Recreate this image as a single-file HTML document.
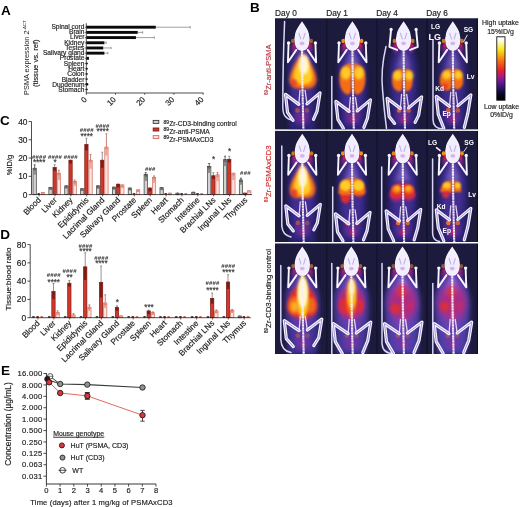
<!DOCTYPE html>
<html><head><meta charset="utf-8"><title>Figure</title>
<style>html,body{margin:0;padding:0;background:#fff;} svg{display:block;} text{font-family:'Liberation Sans', Arial, sans-serif;} text.k{stroke:#222;stroke-width:0.16px;}</style>
</head><body>
<svg width="520" height="507" viewBox="0 0 520 507">
<rect width="520" height="507" fill="#fff"/>
<text x="1.10" y="14.80" font-size="13.5" text-anchor="start" font-weight="bold" fill="#000">A</text>
<text class="k" x="84.40" y="28.60" font-size="6.6" text-anchor="end" font-weight="normal" fill="#1a1a1a">Spinal cord</text>
<rect x="86.30" y="25.75" width="69.50" height="2.9" fill="#0a0a0a"/>
<line x1="155.80" y1="27.20" x2="190.25" y2="27.20" stroke="#555" stroke-width="0.55"/>
<line x1="190.25" y1="26.00" x2="190.25" y2="28.40" stroke="#555" stroke-width="0.55"/>
<text class="k" x="84.40" y="33.90" font-size="6.6" text-anchor="end" font-weight="normal" fill="#1a1a1a">Brain</text>
<rect x="86.30" y="30.94" width="51.39" height="2.9" fill="#0a0a0a"/>
<line x1="137.69" y1="32.39" x2="142.66" y2="32.39" stroke="#555" stroke-width="0.55"/>
<line x1="142.66" y1="31.19" x2="142.66" y2="33.59" stroke="#555" stroke-width="0.55"/>
<text class="k" x="84.40" y="39.20" font-size="6.6" text-anchor="end" font-weight="normal" fill="#1a1a1a">Liver</text>
<rect x="86.30" y="36.13" width="49.64" height="2.9" fill="#0a0a0a"/>
<line x1="135.94" y1="37.58" x2="154.34" y2="37.58" stroke="#555" stroke-width="0.55"/>
<line x1="154.34" y1="36.38" x2="154.34" y2="38.78" stroke="#555" stroke-width="0.55"/>
<text class="k" x="84.40" y="44.50" font-size="6.6" text-anchor="end" font-weight="normal" fill="#1a1a1a">Kidney</text>
<rect x="86.30" y="41.32" width="18.10" height="2.9" fill="#0a0a0a"/>
<line x1="104.40" y1="42.77" x2="106.16" y2="42.77" stroke="#555" stroke-width="0.55"/>
<line x1="106.16" y1="41.57" x2="106.16" y2="43.97" stroke="#555" stroke-width="0.55"/>
<text class="k" x="84.40" y="49.80" font-size="6.6" text-anchor="end" font-weight="normal" fill="#1a1a1a">Testes</text>
<rect x="86.30" y="46.51" width="16.94" height="2.9" fill="#0a0a0a"/>
<line x1="103.24" y1="47.96" x2="111.12" y2="47.96" stroke="#555" stroke-width="0.55"/>
<line x1="111.12" y1="46.76" x2="111.12" y2="49.16" stroke="#555" stroke-width="0.55"/>
<text class="k" x="84.40" y="55.10" font-size="6.6" text-anchor="end" font-weight="normal" fill="#1a1a1a">Salivary gland</text>
<rect x="86.30" y="51.70" width="18.10" height="2.9" fill="#0a0a0a"/>
<line x1="104.40" y1="53.15" x2="107.91" y2="53.15" stroke="#555" stroke-width="0.55"/>
<line x1="107.91" y1="51.95" x2="107.91" y2="54.35" stroke="#555" stroke-width="0.55"/>
<text class="k" x="84.40" y="60.40" font-size="6.6" text-anchor="end" font-weight="normal" fill="#1a1a1a">Prostate</text>
<rect x="86.30" y="56.89" width="2.63" height="2.9" fill="#0a0a0a"/>
<text class="k" x="84.40" y="65.70" font-size="6.6" text-anchor="end" font-weight="normal" fill="#1a1a1a">Spleen</text>
<circle cx="86.90" cy="63.53" r="0.96" fill="#0a0a0a"/>
<text class="k" x="84.40" y="71.00" font-size="6.6" text-anchor="end" font-weight="normal" fill="#1a1a1a">Heart</text>
<circle cx="86.90" cy="68.72" r="0.96" fill="#0a0a0a"/>
<text class="k" x="84.40" y="76.30" font-size="6.6" text-anchor="end" font-weight="normal" fill="#1a1a1a">Colon</text>
<circle cx="86.90" cy="73.91" r="0.88" fill="#0a0a0a"/>
<text class="k" x="84.40" y="81.60" font-size="6.6" text-anchor="end" font-weight="normal" fill="#1a1a1a">Bladder</text>
<circle cx="86.90" cy="79.10" r="0.88" fill="#0a0a0a"/>
<text class="k" x="84.40" y="86.90" font-size="6.6" text-anchor="end" font-weight="normal" fill="#1a1a1a">Duodenum</text>
<circle cx="86.90" cy="84.29" r="1.40" fill="#0a0a0a"/>
<text class="k" x="84.40" y="92.20" font-size="6.6" text-anchor="end" font-weight="normal" fill="#1a1a1a">Stomach</text>
<circle cx="86.90" cy="89.48" r="0.88" fill="#0a0a0a"/>
<line x1="86.30" y1="23.2" x2="86.30" y2="93.00" stroke="#222" stroke-width="0.8"/>
<line x1="85.90" y1="93.00" x2="203.50" y2="93.00" stroke="#222" stroke-width="0.8"/>
<line x1="84.70" y1="27.20" x2="86.30" y2="27.20" stroke="#222" stroke-width="0.6"/>
<line x1="84.70" y1="32.39" x2="86.30" y2="32.39" stroke="#222" stroke-width="0.6"/>
<line x1="84.70" y1="37.58" x2="86.30" y2="37.58" stroke="#222" stroke-width="0.6"/>
<line x1="84.70" y1="42.77" x2="86.30" y2="42.77" stroke="#222" stroke-width="0.6"/>
<line x1="84.70" y1="47.96" x2="86.30" y2="47.96" stroke="#222" stroke-width="0.6"/>
<line x1="84.70" y1="53.15" x2="86.30" y2="53.15" stroke="#222" stroke-width="0.6"/>
<line x1="84.70" y1="58.34" x2="86.30" y2="58.34" stroke="#222" stroke-width="0.6"/>
<line x1="84.70" y1="63.53" x2="86.30" y2="63.53" stroke="#222" stroke-width="0.6"/>
<line x1="84.70" y1="68.72" x2="86.30" y2="68.72" stroke="#222" stroke-width="0.6"/>
<line x1="84.70" y1="73.91" x2="86.30" y2="73.91" stroke="#222" stroke-width="0.6"/>
<line x1="84.70" y1="79.10" x2="86.30" y2="79.10" stroke="#222" stroke-width="0.6"/>
<line x1="84.70" y1="84.29" x2="86.30" y2="84.29" stroke="#222" stroke-width="0.6"/>
<line x1="84.70" y1="89.48" x2="86.30" y2="89.48" stroke="#222" stroke-width="0.6"/>
<line x1="86.30" y1="93.00" x2="86.30" y2="94.80" stroke="#222" stroke-width="0.7"/>
<text class="k" x="87.30" y="100.00" font-size="8.0" text-anchor="end" font-weight="normal" fill="#1a1a1a" transform="rotate(-45 87.30 100.00)">0</text>
<line x1="115.50" y1="93.00" x2="115.50" y2="94.80" stroke="#222" stroke-width="0.7"/>
<text class="k" x="116.50" y="100.00" font-size="8.0" text-anchor="end" font-weight="normal" fill="#1a1a1a" transform="rotate(-45 116.50 100.00)">10</text>
<line x1="144.70" y1="93.00" x2="144.70" y2="94.80" stroke="#222" stroke-width="0.7"/>
<text class="k" x="145.70" y="100.00" font-size="8.0" text-anchor="end" font-weight="normal" fill="#1a1a1a" transform="rotate(-45 145.70 100.00)">20</text>
<line x1="173.90" y1="93.00" x2="173.90" y2="94.80" stroke="#222" stroke-width="0.7"/>
<text class="k" x="174.90" y="100.00" font-size="8.0" text-anchor="end" font-weight="normal" fill="#1a1a1a" transform="rotate(-45 174.90 100.00)">30</text>
<line x1="203.10" y1="93.00" x2="203.10" y2="94.80" stroke="#222" stroke-width="0.7"/>
<text class="k" x="204.10" y="100.00" font-size="8.0" text-anchor="end" font-weight="normal" fill="#1a1a1a" transform="rotate(-45 204.10 100.00)">40</text>
<text x="0" y="0" font-size="7.4" text-anchor="middle" fill="#1a1a1a" transform="translate(28.9 57.7) rotate(-90)">PSMA expression 2<tspan font-size="4.3" dy="-3.2">-ΔCT</tspan></text>
<text class="k" x="0.00" y="0.00" font-size="7.6" text-anchor="middle" font-weight="normal" fill="#1a1a1a" transform="translate(37.9 63.2) rotate(-90)">(tissue vs. ref)</text>
<text x="0.10" y="124.50" font-size="13.5" text-anchor="start" font-weight="bold" fill="#000">C</text>
<rect x="33.00" y="168.28" width="3.30" height="26.32" fill="#d2d2d2" stroke="#3a3a3a" stroke-width="0.7"/>
<rect x="33.40" y="168.68" width="2.50" height="6.00" fill="#8a8a8a"/>
<line x1="34.65" y1="168.28" x2="34.65" y2="164.81" stroke="#444" stroke-width="0.8"/>
<line x1="33.65" y1="164.81" x2="35.65" y2="164.81" stroke="#444" stroke-width="0.8"/>
<path d="M33.45 169.88 L34.65 167.68 L35.85 169.88Z" fill="none" stroke="#3a3a3a" stroke-width="0.5"/>
<ellipse cx="38.80" cy="193.90" rx="1.5" ry="0.9" fill="#7a1a14"/>
<rect x="41.30" y="192.59" width="3.30" height="2.01" fill="#fbe3df" stroke="#d46a5e" stroke-width="0.7"/>
<path d="M41.75 194.19 L42.95 191.99 L44.15 194.19Z" fill="none" stroke="#d46a5e" stroke-width="0.5"/>
<text x="39.10" y="158.60" font-size="6.0" text-anchor="middle" fill="#333" font-weight="bold" letter-spacing="0.2">####</text>
<text x="39.10" y="165.10" font-size="8.2" text-anchor="middle" fill="#333" stroke="#333" stroke-width="0.15" letter-spacing="-0.1">****</text>
<rect x="48.87" y="187.47" width="3.30" height="7.13" fill="#d2d2d2" stroke="#3a3a3a" stroke-width="0.7"/>
<rect x="49.27" y="187.87" width="2.50" height="2.14" fill="#8a8a8a"/>
<path d="M49.32 189.07 L50.52 186.87 L51.72 189.07Z" fill="none" stroke="#3a3a3a" stroke-width="0.5"/>
<rect x="53.02" y="167.55" width="3.30" height="27.05" fill="#d2372a" stroke="#7a1a14" stroke-width="0.7"/>
<rect x="53.32" y="167.85" width="2.70" height="3.00" fill="#7d1d1a"/>
<line x1="54.67" y1="167.55" x2="54.67" y2="164.63" stroke="#7a7a7a" stroke-width="0.8"/>
<line x1="53.67" y1="164.63" x2="55.67" y2="164.63" stroke="#7a7a7a" stroke-width="0.8"/>
<path d="M53.47 169.15 L54.67 166.95 L55.87 169.15Z" fill="none" stroke="#7a1a14" stroke-width="0.5"/>
<rect x="57.17" y="173.22" width="3.30" height="21.38" fill="#fbe3df" stroke="#d46a5e" stroke-width="0.7"/>
<rect x="57.57" y="173.62" width="2.50" height="6.41" fill="#eaa597"/>
<line x1="58.82" y1="173.22" x2="58.82" y2="170.29" stroke="#b06a60" stroke-width="0.8"/>
<line x1="57.82" y1="170.29" x2="59.82" y2="170.29" stroke="#b06a60" stroke-width="0.8"/>
<path d="M57.62 174.82 L58.82 172.62 L60.02 174.82Z" fill="none" stroke="#d46a5e" stroke-width="0.5"/>
<text x="54.97" y="158.60" font-size="6.0" text-anchor="middle" fill="#333" font-weight="bold" letter-spacing="0.2">####</text>
<text x="54.97" y="165.10" font-size="8.2" text-anchor="middle" fill="#333" stroke="#333" stroke-width="0.15" letter-spacing="-0.1">*</text>
<rect x="64.74" y="185.83" width="3.30" height="8.77" fill="#d2d2d2" stroke="#3a3a3a" stroke-width="0.7"/>
<rect x="65.14" y="186.23" width="2.50" height="2.63" fill="#8a8a8a"/>
<path d="M65.19 187.43 L66.39 185.23 L67.59 187.43Z" fill="none" stroke="#3a3a3a" stroke-width="0.5"/>
<rect x="68.89" y="160.24" width="3.30" height="34.36" fill="#d2372a" stroke="#7a1a14" stroke-width="0.7"/>
<rect x="69.19" y="160.54" width="2.70" height="3.00" fill="#7d1d1a"/>
<path d="M69.34 161.84 L70.54 159.64 L71.74 161.84Z" fill="none" stroke="#7a1a14" stroke-width="0.5"/>
<rect x="73.04" y="181.62" width="3.30" height="12.98" fill="#fbe3df" stroke="#d46a5e" stroke-width="0.7"/>
<rect x="73.44" y="182.02" width="2.50" height="3.89" fill="#eaa597"/>
<line x1="74.69" y1="181.62" x2="74.69" y2="179.98" stroke="#b06a60" stroke-width="0.8"/>
<line x1="73.69" y1="179.98" x2="75.69" y2="179.98" stroke="#b06a60" stroke-width="0.8"/>
<path d="M73.49 183.22 L74.69 181.02 L75.89 183.22Z" fill="none" stroke="#d46a5e" stroke-width="0.5"/>
<text x="70.84" y="158.60" font-size="6.0" text-anchor="middle" fill="#333" font-weight="bold" letter-spacing="0.2">####</text>
<rect x="80.61" y="188.75" width="3.30" height="5.85" fill="#d2d2d2" stroke="#3a3a3a" stroke-width="0.7"/>
<rect x="81.01" y="189.15" width="2.50" height="1.75" fill="#8a8a8a"/>
<path d="M81.06 190.35 L82.26 188.15 L83.46 190.35Z" fill="none" stroke="#3a3a3a" stroke-width="0.5"/>
<rect x="84.76" y="144.53" width="3.30" height="50.07" fill="#d2372a" stroke="#7a1a14" stroke-width="0.7"/>
<rect x="85.06" y="144.83" width="2.70" height="5.59" fill="#7d1d1a"/>
<line x1="86.41" y1="144.53" x2="86.41" y2="138.31" stroke="#7a7a7a" stroke-width="0.8"/>
<line x1="85.41" y1="138.31" x2="87.41" y2="138.31" stroke="#7a7a7a" stroke-width="0.8"/>
<path d="M85.21 146.13 L86.41 143.93 L87.61 146.13Z" fill="none" stroke="#7a1a14" stroke-width="0.5"/>
<rect x="88.91" y="160.24" width="3.30" height="34.36" fill="#fbe3df" stroke="#d46a5e" stroke-width="0.7"/>
<rect x="89.31" y="160.64" width="2.50" height="8.00" fill="#eaa597"/>
<line x1="90.56" y1="160.24" x2="90.56" y2="154.58" stroke="#b06a60" stroke-width="0.8"/>
<line x1="89.56" y1="154.58" x2="91.56" y2="154.58" stroke="#b06a60" stroke-width="0.8"/>
<path d="M89.36 161.84 L90.56 159.64 L91.76 161.84Z" fill="none" stroke="#d46a5e" stroke-width="0.5"/>
<text x="86.71" y="132.30" font-size="6.0" text-anchor="middle" fill="#333" font-weight="bold" letter-spacing="0.2">####</text>
<text x="86.71" y="138.80" font-size="8.2" text-anchor="middle" fill="#333" stroke="#333" stroke-width="0.15" letter-spacing="-0.1">****</text>
<rect x="96.48" y="185.83" width="3.30" height="8.77" fill="#d2d2d2" stroke="#3a3a3a" stroke-width="0.7"/>
<rect x="96.88" y="186.23" width="2.50" height="2.63" fill="#8a8a8a"/>
<path d="M96.93 187.43 L98.13 185.23 L99.33 187.43Z" fill="none" stroke="#3a3a3a" stroke-width="0.5"/>
<rect x="100.63" y="160.24" width="3.30" height="34.36" fill="#d2372a" stroke="#7a1a14" stroke-width="0.7"/>
<rect x="100.93" y="160.54" width="2.70" height="7.24" fill="#7d1d1a"/>
<line x1="102.28" y1="160.24" x2="102.28" y2="152.20" stroke="#7a7a7a" stroke-width="0.8"/>
<line x1="101.28" y1="152.20" x2="103.28" y2="152.20" stroke="#7a7a7a" stroke-width="0.8"/>
<path d="M101.08 161.84 L102.28 159.64 L103.48 161.84Z" fill="none" stroke="#7a1a14" stroke-width="0.5"/>
<rect x="104.78" y="147.08" width="3.30" height="47.52" fill="#fbe3df" stroke="#d46a5e" stroke-width="0.7"/>
<rect x="105.18" y="147.48" width="2.50" height="8.00" fill="#eaa597"/>
<line x1="106.43" y1="147.08" x2="106.43" y2="133.74" stroke="#b06a60" stroke-width="0.8"/>
<line x1="105.43" y1="133.74" x2="107.43" y2="133.74" stroke="#b06a60" stroke-width="0.8"/>
<path d="M105.23 148.68 L106.43 146.48 L107.63 148.68Z" fill="none" stroke="#d46a5e" stroke-width="0.5"/>
<text x="102.58" y="128.00" font-size="6.0" text-anchor="middle" fill="#333" font-weight="bold" letter-spacing="0.2">####</text>
<text x="102.58" y="134.40" font-size="8.2" text-anchor="middle" fill="#333" stroke="#333" stroke-width="0.15" letter-spacing="-0.1">****</text>
<rect x="112.35" y="187.11" width="3.30" height="7.49" fill="#d2d2d2" stroke="#3a3a3a" stroke-width="0.7"/>
<rect x="112.75" y="187.51" width="2.50" height="2.25" fill="#8a8a8a"/>
<path d="M112.80 188.71 L114.00 186.51 L115.20 188.71Z" fill="none" stroke="#3a3a3a" stroke-width="0.5"/>
<rect x="116.50" y="184.18" width="3.30" height="10.42" fill="#d2372a" stroke="#7a1a14" stroke-width="0.7"/>
<rect x="116.80" y="184.48" width="2.70" height="3.00" fill="#7d1d1a"/>
<path d="M116.95 185.78 L118.15 183.58 L119.35 185.78Z" fill="none" stroke="#7a1a14" stroke-width="0.5"/>
<rect x="120.65" y="184.91" width="3.30" height="9.69" fill="#fbe3df" stroke="#d46a5e" stroke-width="0.7"/>
<rect x="121.05" y="185.31" width="2.50" height="2.91" fill="#eaa597"/>
<path d="M121.10 186.51 L122.30 184.31 L123.50 186.51Z" fill="none" stroke="#d46a5e" stroke-width="0.5"/>
<rect x="128.22" y="188.02" width="3.30" height="6.58" fill="#d2d2d2" stroke="#3a3a3a" stroke-width="0.7"/>
<rect x="128.62" y="188.42" width="2.50" height="1.97" fill="#8a8a8a"/>
<path d="M128.67 189.62 L129.87 187.42 L131.07 189.62Z" fill="none" stroke="#3a3a3a" stroke-width="0.5"/>
<ellipse cx="134.02" cy="193.90" rx="1.5" ry="0.9" fill="#7a1a14"/>
<rect x="136.52" y="189.85" width="3.30" height="4.75" fill="#fbe3df" stroke="#d46a5e" stroke-width="0.7"/>
<rect x="136.92" y="190.25" width="2.50" height="1.43" fill="#eaa597"/>
<path d="M136.97 191.45 L138.17 189.25 L139.37 191.45Z" fill="none" stroke="#d46a5e" stroke-width="0.5"/>
<rect x="144.09" y="174.50" width="3.30" height="20.10" fill="#d2d2d2" stroke="#3a3a3a" stroke-width="0.7"/>
<rect x="144.49" y="174.90" width="2.50" height="6.00" fill="#8a8a8a"/>
<line x1="145.74" y1="174.50" x2="145.74" y2="172.67" stroke="#444" stroke-width="0.8"/>
<line x1="144.74" y1="172.67" x2="146.74" y2="172.67" stroke="#444" stroke-width="0.8"/>
<path d="M144.54 176.10 L145.74 173.90 L146.94 176.10Z" fill="none" stroke="#3a3a3a" stroke-width="0.5"/>
<rect x="148.24" y="188.02" width="3.30" height="6.58" fill="#d2372a" stroke="#7a1a14" stroke-width="0.7"/>
<rect x="148.54" y="188.32" width="2.70" height="3.00" fill="#7d1d1a"/>
<path d="M148.69 189.62 L149.89 187.42 L151.09 189.62Z" fill="none" stroke="#7a1a14" stroke-width="0.5"/>
<rect x="152.39" y="177.42" width="3.30" height="17.18" fill="#fbe3df" stroke="#d46a5e" stroke-width="0.7"/>
<rect x="152.79" y="177.82" width="2.50" height="5.15" fill="#eaa597"/>
<line x1="154.04" y1="177.42" x2="154.04" y2="175.96" stroke="#b06a60" stroke-width="0.8"/>
<line x1="153.04" y1="175.96" x2="155.04" y2="175.96" stroke="#b06a60" stroke-width="0.8"/>
<path d="M152.84 179.02 L154.04 176.82 L155.24 179.02Z" fill="none" stroke="#d46a5e" stroke-width="0.5"/>
<text x="150.19" y="170.80" font-size="6.0" text-anchor="middle" fill="#333" font-weight="bold" letter-spacing="0.2">###</text>
<rect x="159.96" y="187.66" width="3.30" height="6.94" fill="#d2d2d2" stroke="#3a3a3a" stroke-width="0.7"/>
<rect x="160.36" y="188.06" width="2.50" height="2.08" fill="#8a8a8a"/>
<path d="M160.41 189.26 L161.61 187.06 L162.81 189.26Z" fill="none" stroke="#3a3a3a" stroke-width="0.5"/>
<ellipse cx="165.76" cy="193.90" rx="1.5" ry="0.9" fill="#7a1a14"/>
<rect x="168.26" y="193.14" width="3.30" height="1.46" fill="#fbe3df" stroke="#d46a5e" stroke-width="0.7"/>
<path d="M168.71 194.74 L169.91 192.54 L171.11 194.74Z" fill="none" stroke="#d46a5e" stroke-width="0.5"/>
<rect x="175.83" y="193.14" width="3.30" height="1.46" fill="#d2d2d2" stroke="#3a3a3a" stroke-width="0.7"/>
<path d="M176.28 194.74 L177.48 192.54 L178.68 194.74Z" fill="none" stroke="#3a3a3a" stroke-width="0.5"/>
<ellipse cx="181.63" cy="193.90" rx="1.5" ry="0.9" fill="#7a1a14"/>
<ellipse cx="185.78" cy="193.90" rx="1.5" ry="0.9" fill="#d46a5e"/>
<rect x="191.70" y="192.22" width="3.30" height="2.38" fill="#d2d2d2" stroke="#3a3a3a" stroke-width="0.7"/>
<path d="M192.15 193.82 L193.35 191.62 L194.55 193.82Z" fill="none" stroke="#3a3a3a" stroke-width="0.5"/>
<ellipse cx="197.50" cy="193.90" rx="1.5" ry="0.9" fill="#7a1a14"/>
<ellipse cx="201.65" cy="193.90" rx="1.5" ry="0.9" fill="#d46a5e"/>
<rect x="207.57" y="166.46" width="3.30" height="28.14" fill="#d2d2d2" stroke="#3a3a3a" stroke-width="0.7"/>
<rect x="207.97" y="166.86" width="2.50" height="6.00" fill="#8a8a8a"/>
<line x1="209.22" y1="166.46" x2="209.22" y2="163.53" stroke="#444" stroke-width="0.8"/>
<line x1="208.22" y1="163.53" x2="210.22" y2="163.53" stroke="#444" stroke-width="0.8"/>
<path d="M208.02 168.06 L209.22 165.86 L210.42 168.06Z" fill="none" stroke="#3a3a3a" stroke-width="0.5"/>
<rect x="211.72" y="175.78" width="3.30" height="18.82" fill="#d2372a" stroke="#7a1a14" stroke-width="0.7"/>
<rect x="212.02" y="176.08" width="2.70" height="3.00" fill="#7d1d1a"/>
<line x1="213.37" y1="175.78" x2="213.37" y2="172.67" stroke="#7a7a7a" stroke-width="0.8"/>
<line x1="212.37" y1="172.67" x2="214.37" y2="172.67" stroke="#7a7a7a" stroke-width="0.8"/>
<path d="M212.17 177.38 L213.37 175.18 L214.57 177.38Z" fill="none" stroke="#7a1a14" stroke-width="0.5"/>
<rect x="215.87" y="174.86" width="3.30" height="19.74" fill="#fbe3df" stroke="#d46a5e" stroke-width="0.7"/>
<rect x="216.27" y="175.26" width="2.50" height="5.92" fill="#eaa597"/>
<line x1="217.52" y1="174.86" x2="217.52" y2="172.67" stroke="#b06a60" stroke-width="0.8"/>
<line x1="216.52" y1="172.67" x2="218.52" y2="172.67" stroke="#b06a60" stroke-width="0.8"/>
<path d="M216.32 176.46 L217.52 174.26 L218.72 176.46Z" fill="none" stroke="#d46a5e" stroke-width="0.5"/>
<text x="213.67" y="161.90" font-size="8.2" text-anchor="middle" fill="#333" stroke="#333" stroke-width="0.15" letter-spacing="-0.1">*</text>
<rect x="223.44" y="159.69" width="3.30" height="34.91" fill="#d2d2d2" stroke="#3a3a3a" stroke-width="0.7"/>
<rect x="223.84" y="160.09" width="2.50" height="6.00" fill="#8a8a8a"/>
<line x1="225.09" y1="159.69" x2="225.09" y2="156.22" stroke="#444" stroke-width="0.8"/>
<line x1="224.09" y1="156.22" x2="226.09" y2="156.22" stroke="#444" stroke-width="0.8"/>
<path d="M223.89 161.29 L225.09 159.09 L226.29 161.29Z" fill="none" stroke="#3a3a3a" stroke-width="0.5"/>
<rect x="227.59" y="159.33" width="3.30" height="35.27" fill="#d2372a" stroke="#7a1a14" stroke-width="0.7"/>
<rect x="227.89" y="159.63" width="2.70" height="3.00" fill="#7d1d1a"/>
<line x1="229.24" y1="159.33" x2="229.24" y2="156.22" stroke="#7a7a7a" stroke-width="0.8"/>
<line x1="228.24" y1="156.22" x2="230.24" y2="156.22" stroke="#7a7a7a" stroke-width="0.8"/>
<path d="M228.04 160.93 L229.24 158.73 L230.44 160.93Z" fill="none" stroke="#7a1a14" stroke-width="0.5"/>
<rect x="231.74" y="173.22" width="3.30" height="21.38" fill="#fbe3df" stroke="#d46a5e" stroke-width="0.7"/>
<rect x="232.14" y="173.62" width="2.50" height="6.41" fill="#eaa597"/>
<path d="M232.19 174.82 L233.39 172.62 L234.59 174.82Z" fill="none" stroke="#d46a5e" stroke-width="0.5"/>
<text x="229.54" y="154.40" font-size="8.2" text-anchor="middle" fill="#333" stroke="#333" stroke-width="0.15" letter-spacing="-0.1">*</text>
<rect x="239.31" y="179.98" width="3.30" height="14.62" fill="#d2d2d2" stroke="#3a3a3a" stroke-width="0.7"/>
<rect x="239.71" y="180.38" width="2.50" height="4.39" fill="#8a8a8a"/>
<line x1="240.96" y1="179.98" x2="240.96" y2="178.15" stroke="#444" stroke-width="0.8"/>
<line x1="239.96" y1="178.15" x2="241.96" y2="178.15" stroke="#444" stroke-width="0.8"/>
<path d="M239.76 181.58 L240.96 179.38 L242.16 181.58Z" fill="none" stroke="#3a3a3a" stroke-width="0.5"/>
<rect x="243.46" y="193.14" width="3.30" height="1.46" fill="#d2372a" stroke="#7a1a14" stroke-width="0.7"/>
<path d="M243.91 194.74 L245.11 192.54 L246.31 194.74Z" fill="none" stroke="#7a1a14" stroke-width="0.5"/>
<rect x="247.61" y="190.76" width="3.30" height="3.84" fill="#fbe3df" stroke="#d46a5e" stroke-width="0.7"/>
<path d="M248.06 192.36 L249.26 190.16 L250.46 192.36Z" fill="none" stroke="#d46a5e" stroke-width="0.5"/>
<text x="245.41" y="174.80" font-size="6.0" text-anchor="middle" fill="#333" font-weight="bold" letter-spacing="0.2">###</text>
<line x1="31.50" y1="121.50" x2="31.50" y2="194.60" stroke="#222" stroke-width="0.8"/>
<line x1="31.50" y1="194.60" x2="252.00" y2="194.60" stroke="#222" stroke-width="0.8"/>
<line x1="28.70" y1="194.60" x2="31.50" y2="194.60" stroke="#222" stroke-width="0.8"/>
<text class="k" x="27.50" y="197.60" font-size="8.4" text-anchor="end" font-weight="normal" fill="#1a1a1a">0</text>
<line x1="28.70" y1="176.32" x2="31.50" y2="176.32" stroke="#222" stroke-width="0.8"/>
<text class="k" x="27.50" y="179.32" font-size="8.4" text-anchor="end" font-weight="normal" fill="#1a1a1a">10</text>
<line x1="28.70" y1="158.05" x2="31.50" y2="158.05" stroke="#222" stroke-width="0.8"/>
<text class="k" x="27.50" y="161.05" font-size="8.4" text-anchor="end" font-weight="normal" fill="#1a1a1a">20</text>
<line x1="28.70" y1="139.78" x2="31.50" y2="139.78" stroke="#222" stroke-width="0.8"/>
<text class="k" x="27.50" y="142.78" font-size="8.4" text-anchor="end" font-weight="normal" fill="#1a1a1a">30</text>
<line x1="28.70" y1="121.50" x2="31.50" y2="121.50" stroke="#222" stroke-width="0.8"/>
<text class="k" x="27.50" y="124.50" font-size="8.4" text-anchor="end" font-weight="normal" fill="#1a1a1a">40</text>
<line x1="39.10" y1="194.60" x2="39.10" y2="196.40" stroke="#222" stroke-width="0.7"/>
<text class="k" x="41.50" y="200.60" font-size="8.2" text-anchor="end" font-weight="normal" fill="#111" transform="rotate(-45 41.50 200.60)">Blood</text>
<line x1="54.97" y1="194.60" x2="54.97" y2="196.40" stroke="#222" stroke-width="0.7"/>
<text class="k" x="57.37" y="200.60" font-size="8.2" text-anchor="end" font-weight="normal" fill="#111" transform="rotate(-45 57.37 200.60)">Liver</text>
<line x1="70.84" y1="194.60" x2="70.84" y2="196.40" stroke="#222" stroke-width="0.7"/>
<text class="k" x="73.24" y="200.60" font-size="8.2" text-anchor="end" font-weight="normal" fill="#111" transform="rotate(-45 73.24 200.60)">Kidney</text>
<line x1="86.71" y1="194.60" x2="86.71" y2="196.40" stroke="#222" stroke-width="0.7"/>
<text class="k" x="89.11" y="200.60" font-size="8.2" text-anchor="end" font-weight="normal" fill="#111" transform="rotate(-45 89.11 200.60)">Epididymis</text>
<line x1="102.58" y1="194.60" x2="102.58" y2="196.40" stroke="#222" stroke-width="0.7"/>
<text class="k" x="104.98" y="200.60" font-size="8.2" text-anchor="end" font-weight="normal" fill="#111" transform="rotate(-45 104.98 200.60)">Lacrimal Gland</text>
<line x1="118.45" y1="194.60" x2="118.45" y2="196.40" stroke="#222" stroke-width="0.7"/>
<text class="k" x="120.85" y="200.60" font-size="8.2" text-anchor="end" font-weight="normal" fill="#111" transform="rotate(-45 120.85 200.60)">Salivary Gland</text>
<line x1="134.32" y1="194.60" x2="134.32" y2="196.40" stroke="#222" stroke-width="0.7"/>
<text class="k" x="136.72" y="200.60" font-size="8.2" text-anchor="end" font-weight="normal" fill="#111" transform="rotate(-45 136.72 200.60)">Prostate</text>
<line x1="150.19" y1="194.60" x2="150.19" y2="196.40" stroke="#222" stroke-width="0.7"/>
<text class="k" x="152.59" y="200.60" font-size="8.2" text-anchor="end" font-weight="normal" fill="#111" transform="rotate(-45 152.59 200.60)">Spleen</text>
<line x1="166.06" y1="194.60" x2="166.06" y2="196.40" stroke="#222" stroke-width="0.7"/>
<text class="k" x="168.46" y="200.60" font-size="8.2" text-anchor="end" font-weight="normal" fill="#111" transform="rotate(-45 168.46 200.60)">Heart</text>
<line x1="181.93" y1="194.60" x2="181.93" y2="196.40" stroke="#222" stroke-width="0.7"/>
<text class="k" x="184.33" y="200.60" font-size="8.2" text-anchor="end" font-weight="normal" fill="#111" transform="rotate(-45 184.33 200.60)">Stomach</text>
<line x1="197.80" y1="194.60" x2="197.80" y2="196.40" stroke="#222" stroke-width="0.7"/>
<text class="k" x="200.20" y="200.60" font-size="8.2" text-anchor="end" font-weight="normal" fill="#111" transform="rotate(-45 200.20 200.60)">Intestine</text>
<line x1="213.67" y1="194.60" x2="213.67" y2="196.40" stroke="#222" stroke-width="0.7"/>
<text class="k" x="216.07" y="200.60" font-size="8.2" text-anchor="end" font-weight="normal" fill="#111" transform="rotate(-45 216.07 200.60)">Brachial LNs</text>
<line x1="229.54" y1="194.60" x2="229.54" y2="196.40" stroke="#222" stroke-width="0.7"/>
<text class="k" x="231.94" y="200.60" font-size="8.2" text-anchor="end" font-weight="normal" fill="#111" transform="rotate(-45 231.94 200.60)">Ingunal LNs</text>
<line x1="245.41" y1="194.60" x2="245.41" y2="196.40" stroke="#222" stroke-width="0.7"/>
<text class="k" x="247.81" y="200.60" font-size="8.2" text-anchor="end" font-weight="normal" fill="#111" transform="rotate(-45 247.81 200.60)">Thymus</text>
<text class="k" x="0.00" y="0.00" font-size="7.6" text-anchor="middle" font-weight="normal" fill="#1a1a1a" transform="translate(12.3 165) rotate(-90)">%ID/g</text>
<rect x="153.2" y="120.40" width="5.6" height="3.0" fill="#d2d2d2" stroke="#3a3a3a" stroke-width="0.9"/>
<text class="k" x="163.6" y="126.30" font-size="6.7" fill="#1a1a1a"><tspan font-size="5" dy="-2.8">89</tspan><tspan dy="2.8">Zr-CD3-binding control</tspan></text>
<rect x="153.2" y="128.00" width="5.6" height="3.0" fill="#d2372a" stroke="#7a1a14" stroke-width="0.9"/>
<text class="k" x="163.6" y="133.90" font-size="6.7" fill="#1a1a1a"><tspan font-size="5" dy="-2.8">89</tspan><tspan dy="2.8">Zr-anti-PSMA</tspan></text>
<rect x="153.2" y="135.60" width="5.6" height="3.0" fill="#fbe3df" stroke="#d46a5e" stroke-width="0.9"/>
<text class="k" x="163.6" y="141.50" font-size="6.7" fill="#1a1a1a"><tspan font-size="5" dy="-2.8">89</tspan><tspan dy="2.8">Zr-PSMAxCD3</tspan></text>
<text x="0.20" y="239.00" font-size="13.5" text-anchor="start" font-weight="bold" fill="#000">D</text>
<ellipse cx="33.45" cy="317.00" rx="1.5" ry="0.9" fill="#3a3a3a"/>
<ellipse cx="37.60" cy="317.00" rx="1.5" ry="0.9" fill="#7a1a14"/>
<ellipse cx="41.75" cy="317.00" rx="1.5" ry="0.9" fill="#d46a5e"/>
<ellipse cx="49.32" cy="317.00" rx="1.5" ry="0.9" fill="#3a3a3a"/>
<rect x="51.82" y="291.47" width="3.30" height="26.23" fill="#d2372a" stroke="#7a1a14" stroke-width="0.7"/>
<rect x="52.12" y="291.77" width="2.70" height="7.16" fill="#7d1d1a"/>
<line x1="53.47" y1="291.47" x2="53.47" y2="283.52" stroke="#7a7a7a" stroke-width="0.8"/>
<line x1="52.47" y1="283.52" x2="54.47" y2="283.52" stroke="#7a7a7a" stroke-width="0.8"/>
<path d="M52.27 293.07 L53.47 290.87 L54.67 293.07Z" fill="none" stroke="#7a1a14" stroke-width="0.5"/>
<rect x="55.97" y="312.67" width="3.30" height="5.03" fill="#fbe3df" stroke="#d46a5e" stroke-width="0.7"/>
<rect x="56.37" y="313.07" width="2.50" height="1.51" fill="#eaa597"/>
<line x1="57.62" y1="312.67" x2="57.62" y2="310.84" stroke="#b06a60" stroke-width="0.8"/>
<line x1="56.62" y1="310.84" x2="58.62" y2="310.84" stroke="#b06a60" stroke-width="0.8"/>
<path d="M56.42 314.27 L57.62 312.07 L58.82 314.27Z" fill="none" stroke="#d46a5e" stroke-width="0.5"/>
<text x="53.77" y="277.30" font-size="6.0" text-anchor="middle" fill="#333" font-weight="bold" letter-spacing="0.2">####</text>
<text x="53.77" y="284.60" font-size="8.2" text-anchor="middle" fill="#333" stroke="#333" stroke-width="0.15" letter-spacing="-0.1">****</text>
<ellipse cx="65.19" cy="317.00" rx="1.5" ry="0.9" fill="#3a3a3a"/>
<rect x="67.69" y="283.24" width="3.30" height="34.46" fill="#d2372a" stroke="#7a1a14" stroke-width="0.7"/>
<rect x="67.99" y="283.54" width="2.70" height="3.00" fill="#7d1d1a"/>
<line x1="69.34" y1="283.24" x2="69.34" y2="280.59" stroke="#7a7a7a" stroke-width="0.8"/>
<line x1="68.34" y1="280.59" x2="70.34" y2="280.59" stroke="#7a7a7a" stroke-width="0.8"/>
<path d="M68.14 284.84 L69.34 282.64 L70.54 284.84Z" fill="none" stroke="#7a1a14" stroke-width="0.5"/>
<rect x="71.84" y="314.96" width="3.30" height="2.74" fill="#fbe3df" stroke="#d46a5e" stroke-width="0.7"/>
<line x1="73.49" y1="314.96" x2="73.49" y2="313.59" stroke="#b06a60" stroke-width="0.8"/>
<line x1="72.49" y1="313.59" x2="74.49" y2="313.59" stroke="#b06a60" stroke-width="0.8"/>
<path d="M72.29 316.56 L73.49 314.36 L74.69 316.56Z" fill="none" stroke="#d46a5e" stroke-width="0.5"/>
<text x="69.64" y="273.30" font-size="6.0" text-anchor="middle" fill="#333" font-weight="bold" letter-spacing="0.2">####</text>
<text x="69.64" y="280.10" font-size="8.2" text-anchor="middle" fill="#333" stroke="#333" stroke-width="0.15" letter-spacing="-0.1">**</text>
<ellipse cx="81.06" cy="317.00" rx="1.5" ry="0.9" fill="#3a3a3a"/>
<rect x="83.56" y="266.88" width="3.30" height="50.82" fill="#d2372a" stroke="#7a1a14" stroke-width="0.7"/>
<rect x="83.86" y="267.18" width="2.70" height="12.67" fill="#7d1d1a"/>
<line x1="85.21" y1="266.88" x2="85.21" y2="252.81" stroke="#7a7a7a" stroke-width="0.8"/>
<line x1="84.21" y1="252.81" x2="86.21" y2="252.81" stroke="#7a7a7a" stroke-width="0.8"/>
<path d="M84.01 268.48 L85.21 266.28 L86.41 268.48Z" fill="none" stroke="#7a1a14" stroke-width="0.5"/>
<rect x="87.71" y="307.19" width="3.30" height="10.51" fill="#fbe3df" stroke="#d46a5e" stroke-width="0.7"/>
<rect x="88.11" y="307.59" width="2.50" height="3.15" fill="#eaa597"/>
<line x1="89.36" y1="307.19" x2="89.36" y2="304.90" stroke="#b06a60" stroke-width="0.8"/>
<line x1="88.36" y1="304.90" x2="90.36" y2="304.90" stroke="#b06a60" stroke-width="0.8"/>
<path d="M88.16 308.79 L89.36 306.59 L90.56 308.79Z" fill="none" stroke="#d46a5e" stroke-width="0.5"/>
<text x="85.51" y="247.80" font-size="6.0" text-anchor="middle" fill="#333" font-weight="bold" letter-spacing="0.2">####</text>
<text x="85.51" y="254.40" font-size="8.2" text-anchor="middle" fill="#333" stroke="#333" stroke-width="0.15" letter-spacing="-0.1">****</text>
<ellipse cx="96.93" cy="317.00" rx="1.5" ry="0.9" fill="#3a3a3a"/>
<rect x="99.43" y="282.42" width="3.30" height="35.28" fill="#d2372a" stroke="#7a1a14" stroke-width="0.7"/>
<rect x="99.73" y="282.72" width="2.70" height="14.72" fill="#7d1d1a"/>
<line x1="101.08" y1="282.42" x2="101.08" y2="266.06" stroke="#7a7a7a" stroke-width="0.8"/>
<line x1="100.08" y1="266.06" x2="102.08" y2="266.06" stroke="#7a7a7a" stroke-width="0.8"/>
<path d="M99.88 284.02 L101.08 281.82 L102.28 284.02Z" fill="none" stroke="#7a1a14" stroke-width="0.5"/>
<rect x="103.58" y="303.08" width="3.30" height="14.62" fill="#fbe3df" stroke="#d46a5e" stroke-width="0.7"/>
<rect x="103.98" y="303.48" width="2.50" height="4.39" fill="#eaa597"/>
<line x1="105.23" y1="303.08" x2="105.23" y2="294.85" stroke="#b06a60" stroke-width="0.8"/>
<line x1="104.23" y1="294.85" x2="106.23" y2="294.85" stroke="#b06a60" stroke-width="0.8"/>
<path d="M104.03 304.68 L105.23 302.48 L106.43 304.68Z" fill="none" stroke="#d46a5e" stroke-width="0.5"/>
<text x="101.38" y="259.60" font-size="6.0" text-anchor="middle" fill="#333" font-weight="bold" letter-spacing="0.2">####</text>
<text x="101.38" y="266.40" font-size="8.2" text-anchor="middle" fill="#333" stroke="#333" stroke-width="0.15" letter-spacing="-0.1">****</text>
<ellipse cx="112.80" cy="317.00" rx="1.5" ry="0.9" fill="#3a3a3a"/>
<rect x="115.30" y="307.37" width="3.30" height="10.33" fill="#d2372a" stroke="#7a1a14" stroke-width="0.7"/>
<rect x="115.60" y="307.67" width="2.70" height="3.00" fill="#7d1d1a"/>
<line x1="116.95" y1="307.37" x2="116.95" y2="305.82" stroke="#7a7a7a" stroke-width="0.8"/>
<line x1="115.95" y1="305.82" x2="117.95" y2="305.82" stroke="#7a7a7a" stroke-width="0.8"/>
<path d="M115.75 308.97 L116.95 306.77 L118.15 308.97Z" fill="none" stroke="#7a1a14" stroke-width="0.5"/>
<rect x="119.45" y="315.87" width="3.30" height="1.83" fill="#fbe3df" stroke="#d46a5e" stroke-width="0.7"/>
<path d="M119.90 317.47 L121.10 315.27 L122.30 317.47Z" fill="none" stroke="#d46a5e" stroke-width="0.5"/>
<text x="117.25" y="305.10" font-size="8.2" text-anchor="middle" fill="#333" stroke="#333" stroke-width="0.15" letter-spacing="-0.1">*</text>
<ellipse cx="128.67" cy="317.00" rx="1.5" ry="0.9" fill="#3a3a3a"/>
<ellipse cx="132.82" cy="317.00" rx="1.5" ry="0.9" fill="#7a1a14"/>
<ellipse cx="136.97" cy="317.00" rx="1.5" ry="0.9" fill="#d46a5e"/>
<ellipse cx="144.54" cy="317.00" rx="1.5" ry="0.9" fill="#3a3a3a"/>
<rect x="147.04" y="310.94" width="3.30" height="6.76" fill="#d2372a" stroke="#7a1a14" stroke-width="0.7"/>
<rect x="147.34" y="311.24" width="2.70" height="3.00" fill="#7d1d1a"/>
<line x1="148.69" y1="310.94" x2="148.69" y2="310.21" stroke="#7a7a7a" stroke-width="0.8"/>
<line x1="147.69" y1="310.21" x2="149.69" y2="310.21" stroke="#7a7a7a" stroke-width="0.8"/>
<path d="M147.49 312.54 L148.69 310.34 L149.89 312.54Z" fill="none" stroke="#7a1a14" stroke-width="0.5"/>
<rect x="151.19" y="312.67" width="3.30" height="5.03" fill="#fbe3df" stroke="#d46a5e" stroke-width="0.7"/>
<rect x="151.59" y="313.07" width="2.50" height="1.51" fill="#eaa597"/>
<line x1="152.84" y1="312.67" x2="152.84" y2="311.94" stroke="#b06a60" stroke-width="0.8"/>
<line x1="151.84" y1="311.94" x2="153.84" y2="311.94" stroke="#b06a60" stroke-width="0.8"/>
<path d="M151.64 314.27 L152.84 312.07 L154.04 314.27Z" fill="none" stroke="#d46a5e" stroke-width="0.5"/>
<text x="148.99" y="310.10" font-size="8.2" text-anchor="middle" fill="#333" stroke="#333" stroke-width="0.15" letter-spacing="-0.1">***</text>
<ellipse cx="160.41" cy="317.00" rx="1.5" ry="0.9" fill="#3a3a3a"/>
<ellipse cx="164.56" cy="317.00" rx="1.5" ry="0.9" fill="#7a1a14"/>
<ellipse cx="168.71" cy="317.00" rx="1.5" ry="0.9" fill="#d46a5e"/>
<ellipse cx="176.28" cy="317.00" rx="1.5" ry="0.9" fill="#3a3a3a"/>
<ellipse cx="180.43" cy="317.00" rx="1.5" ry="0.9" fill="#7a1a14"/>
<ellipse cx="184.58" cy="317.00" rx="1.5" ry="0.9" fill="#d46a5e"/>
<ellipse cx="192.15" cy="317.00" rx="1.5" ry="0.9" fill="#3a3a3a"/>
<ellipse cx="196.30" cy="317.00" rx="1.5" ry="0.9" fill="#7a1a14"/>
<ellipse cx="200.45" cy="317.00" rx="1.5" ry="0.9" fill="#d46a5e"/>
<ellipse cx="208.02" cy="317.00" rx="1.5" ry="0.9" fill="#3a3a3a"/>
<rect x="210.52" y="298.51" width="3.30" height="19.19" fill="#d2372a" stroke="#7a1a14" stroke-width="0.7"/>
<rect x="210.82" y="298.81" width="2.70" height="4.94" fill="#7d1d1a"/>
<line x1="212.17" y1="298.51" x2="212.17" y2="293.02" stroke="#7a7a7a" stroke-width="0.8"/>
<line x1="211.17" y1="293.02" x2="213.17" y2="293.02" stroke="#7a7a7a" stroke-width="0.8"/>
<path d="M210.97 300.11 L212.17 297.91 L213.37 300.11Z" fill="none" stroke="#7a1a14" stroke-width="0.5"/>
<rect x="214.67" y="310.94" width="3.30" height="6.76" fill="#fbe3df" stroke="#d46a5e" stroke-width="0.7"/>
<rect x="215.07" y="311.34" width="2.50" height="2.03" fill="#eaa597"/>
<line x1="216.32" y1="310.94" x2="216.32" y2="309.93" stroke="#b06a60" stroke-width="0.8"/>
<line x1="215.32" y1="309.93" x2="217.32" y2="309.93" stroke="#b06a60" stroke-width="0.8"/>
<path d="M215.12 312.54 L216.32 310.34 L217.52 312.54Z" fill="none" stroke="#d46a5e" stroke-width="0.5"/>
<text x="212.47" y="285.30" font-size="6.0" text-anchor="middle" fill="#333" font-weight="bold" letter-spacing="0.2">####</text>
<text x="212.47" y="292.90" font-size="8.2" text-anchor="middle" fill="#333" stroke="#333" stroke-width="0.15" letter-spacing="-0.1">****</text>
<ellipse cx="223.89" cy="317.00" rx="1.5" ry="0.9" fill="#3a3a3a"/>
<rect x="226.39" y="282.05" width="3.30" height="35.65" fill="#d2372a" stroke="#7a1a14" stroke-width="0.7"/>
<rect x="226.69" y="282.35" width="2.70" height="6.58" fill="#7d1d1a"/>
<line x1="228.04" y1="282.05" x2="228.04" y2="274.74" stroke="#7a7a7a" stroke-width="0.8"/>
<line x1="227.04" y1="274.74" x2="229.04" y2="274.74" stroke="#7a7a7a" stroke-width="0.8"/>
<path d="M226.84 283.65 L228.04 281.45 L229.24 283.65Z" fill="none" stroke="#7a1a14" stroke-width="0.5"/>
<rect x="230.54" y="310.39" width="3.30" height="7.31" fill="#fbe3df" stroke="#d46a5e" stroke-width="0.7"/>
<rect x="230.94" y="310.79" width="2.50" height="2.19" fill="#eaa597"/>
<line x1="232.19" y1="310.39" x2="232.19" y2="309.47" stroke="#b06a60" stroke-width="0.8"/>
<line x1="231.19" y1="309.47" x2="233.19" y2="309.47" stroke="#b06a60" stroke-width="0.8"/>
<path d="M230.99 311.99 L232.19 309.79 L233.39 311.99Z" fill="none" stroke="#d46a5e" stroke-width="0.5"/>
<text x="228.34" y="267.60" font-size="6.0" text-anchor="middle" fill="#333" font-weight="bold" letter-spacing="0.2">####</text>
<text x="228.34" y="274.60" font-size="8.2" text-anchor="middle" fill="#333" stroke="#333" stroke-width="0.15" letter-spacing="-0.1">****</text>
<rect x="238.11" y="316.05" width="3.30" height="1.65" fill="#d2d2d2" stroke="#3a3a3a" stroke-width="0.7"/>
<path d="M238.56 317.65 L239.76 315.45 L240.96 317.65Z" fill="none" stroke="#3a3a3a" stroke-width="0.5"/>
<ellipse cx="243.91" cy="317.00" rx="1.5" ry="0.9" fill="#7a1a14"/>
<ellipse cx="248.06" cy="317.00" rx="1.5" ry="0.9" fill="#d46a5e"/>
<line x1="30.20" y1="244.58" x2="30.20" y2="317.70" stroke="#222" stroke-width="0.8"/>
<line x1="30.20" y1="317.70" x2="250.80" y2="317.70" stroke="#222" stroke-width="0.8"/>
<line x1="27.40" y1="317.70" x2="30.20" y2="317.70" stroke="#222" stroke-width="0.8"/>
<text class="k" x="26.20" y="320.70" font-size="8.4" text-anchor="end" font-weight="normal" fill="#1a1a1a">0</text>
<line x1="27.40" y1="299.42" x2="30.20" y2="299.42" stroke="#222" stroke-width="0.8"/>
<text class="k" x="26.20" y="302.42" font-size="8.4" text-anchor="end" font-weight="normal" fill="#1a1a1a">20</text>
<line x1="27.40" y1="281.14" x2="30.20" y2="281.14" stroke="#222" stroke-width="0.8"/>
<text class="k" x="26.20" y="284.14" font-size="8.4" text-anchor="end" font-weight="normal" fill="#1a1a1a">40</text>
<line x1="27.40" y1="262.86" x2="30.20" y2="262.86" stroke="#222" stroke-width="0.8"/>
<text class="k" x="26.20" y="265.86" font-size="8.4" text-anchor="end" font-weight="normal" fill="#1a1a1a">60</text>
<line x1="27.40" y1="244.58" x2="30.20" y2="244.58" stroke="#222" stroke-width="0.8"/>
<text class="k" x="26.20" y="247.58" font-size="8.4" text-anchor="end" font-weight="normal" fill="#1a1a1a">80</text>
<line x1="37.90" y1="317.70" x2="37.90" y2="319.50" stroke="#222" stroke-width="0.7"/>
<text class="k" x="40.30" y="323.70" font-size="8.2" text-anchor="end" font-weight="normal" fill="#111" transform="rotate(-45 40.30 323.70)">Blood</text>
<line x1="53.77" y1="317.70" x2="53.77" y2="319.50" stroke="#222" stroke-width="0.7"/>
<text class="k" x="56.17" y="323.70" font-size="8.2" text-anchor="end" font-weight="normal" fill="#111" transform="rotate(-45 56.17 323.70)">Liver</text>
<line x1="69.64" y1="317.70" x2="69.64" y2="319.50" stroke="#222" stroke-width="0.7"/>
<text class="k" x="72.04" y="323.70" font-size="8.2" text-anchor="end" font-weight="normal" fill="#111" transform="rotate(-45 72.04 323.70)">Kidney</text>
<line x1="85.51" y1="317.70" x2="85.51" y2="319.50" stroke="#222" stroke-width="0.7"/>
<text class="k" x="87.91" y="323.70" font-size="8.2" text-anchor="end" font-weight="normal" fill="#111" transform="rotate(-45 87.91 323.70)">Epididymis</text>
<line x1="101.38" y1="317.70" x2="101.38" y2="319.50" stroke="#222" stroke-width="0.7"/>
<text class="k" x="103.78" y="323.70" font-size="8.2" text-anchor="end" font-weight="normal" fill="#111" transform="rotate(-45 103.78 323.70)">Lacrimal Gland</text>
<line x1="117.25" y1="317.70" x2="117.25" y2="319.50" stroke="#222" stroke-width="0.7"/>
<text class="k" x="119.65" y="323.70" font-size="8.2" text-anchor="end" font-weight="normal" fill="#111" transform="rotate(-45 119.65 323.70)">Salivary Gland</text>
<line x1="133.12" y1="317.70" x2="133.12" y2="319.50" stroke="#222" stroke-width="0.7"/>
<text class="k" x="135.52" y="323.70" font-size="8.2" text-anchor="end" font-weight="normal" fill="#111" transform="rotate(-45 135.52 323.70)">Prostate</text>
<line x1="148.99" y1="317.70" x2="148.99" y2="319.50" stroke="#222" stroke-width="0.7"/>
<text class="k" x="151.39" y="323.70" font-size="8.2" text-anchor="end" font-weight="normal" fill="#111" transform="rotate(-45 151.39 323.70)">Spleen</text>
<line x1="164.86" y1="317.70" x2="164.86" y2="319.50" stroke="#222" stroke-width="0.7"/>
<text class="k" x="167.26" y="323.70" font-size="8.2" text-anchor="end" font-weight="normal" fill="#111" transform="rotate(-45 167.26 323.70)">Heart</text>
<line x1="180.73" y1="317.70" x2="180.73" y2="319.50" stroke="#222" stroke-width="0.7"/>
<text class="k" x="183.13" y="323.70" font-size="8.2" text-anchor="end" font-weight="normal" fill="#111" transform="rotate(-45 183.13 323.70)">Stomach</text>
<line x1="196.60" y1="317.70" x2="196.60" y2="319.50" stroke="#222" stroke-width="0.7"/>
<text class="k" x="199.00" y="323.70" font-size="8.2" text-anchor="end" font-weight="normal" fill="#111" transform="rotate(-45 199.00 323.70)">Intestine</text>
<line x1="212.47" y1="317.70" x2="212.47" y2="319.50" stroke="#222" stroke-width="0.7"/>
<text class="k" x="214.87" y="323.70" font-size="8.2" text-anchor="end" font-weight="normal" fill="#111" transform="rotate(-45 214.87 323.70)">Brachial LNs</text>
<line x1="228.34" y1="317.70" x2="228.34" y2="319.50" stroke="#222" stroke-width="0.7"/>
<text class="k" x="230.74" y="323.70" font-size="8.2" text-anchor="end" font-weight="normal" fill="#111" transform="rotate(-45 230.74 323.70)">Ingunal LNs</text>
<line x1="244.21" y1="317.70" x2="244.21" y2="319.50" stroke="#222" stroke-width="0.7"/>
<text class="k" x="246.61" y="323.70" font-size="8.2" text-anchor="end" font-weight="normal" fill="#111" transform="rotate(-45 246.61 323.70)">Thymus</text>
<text class="k" x="0.00" y="0.00" font-size="8.0" text-anchor="middle" font-weight="normal" fill="#1a1a1a" transform="translate(10.9 279) rotate(-90)">Tissue:blood ratio</text>
<text x="1.00" y="375.00" font-size="13.5" text-anchor="start" font-weight="bold" fill="#000">E</text>
<line x1="43.40" y1="373.50" x2="46.40" y2="373.50" stroke="#222" stroke-width="0.8"/>
<text class="k" x="42.40" y="376.20" font-size="7.6" text-anchor="end" font-weight="normal" fill="#1a1a1a" letter-spacing="0.28">16.000</text>
<line x1="43.40" y1="384.91" x2="46.40" y2="384.91" stroke="#222" stroke-width="0.8"/>
<text class="k" x="42.40" y="387.61" font-size="7.6" text-anchor="end" font-weight="normal" fill="#1a1a1a" letter-spacing="0.28">8.000</text>
<line x1="43.40" y1="396.32" x2="46.40" y2="396.32" stroke="#222" stroke-width="0.8"/>
<text class="k" x="42.40" y="399.02" font-size="7.6" text-anchor="end" font-weight="normal" fill="#1a1a1a" letter-spacing="0.28">4.000</text>
<line x1="43.40" y1="407.73" x2="46.40" y2="407.73" stroke="#222" stroke-width="0.8"/>
<text class="k" x="42.40" y="410.43" font-size="7.6" text-anchor="end" font-weight="normal" fill="#1a1a1a" letter-spacing="0.28">2.000</text>
<line x1="43.40" y1="419.14" x2="46.40" y2="419.14" stroke="#222" stroke-width="0.8"/>
<text class="k" x="42.40" y="421.84" font-size="7.6" text-anchor="end" font-weight="normal" fill="#1a1a1a" letter-spacing="0.28">1.000</text>
<line x1="43.40" y1="430.55" x2="46.40" y2="430.55" stroke="#222" stroke-width="0.8"/>
<text class="k" x="42.40" y="433.25" font-size="7.6" text-anchor="end" font-weight="normal" fill="#1a1a1a" letter-spacing="0.28">0.500</text>
<line x1="43.40" y1="441.96" x2="46.40" y2="441.96" stroke="#222" stroke-width="0.8"/>
<text class="k" x="42.40" y="444.66" font-size="7.6" text-anchor="end" font-weight="normal" fill="#1a1a1a" letter-spacing="0.28">0.250</text>
<line x1="43.40" y1="453.37" x2="46.40" y2="453.37" stroke="#222" stroke-width="0.8"/>
<text class="k" x="42.40" y="456.07" font-size="7.6" text-anchor="end" font-weight="normal" fill="#1a1a1a" letter-spacing="0.28">0.125</text>
<line x1="43.40" y1="464.78" x2="46.40" y2="464.78" stroke="#222" stroke-width="0.8"/>
<text class="k" x="42.40" y="467.48" font-size="7.6" text-anchor="end" font-weight="normal" fill="#1a1a1a" letter-spacing="0.28">0.063</text>
<line x1="43.40" y1="476.19" x2="46.40" y2="476.19" stroke="#222" stroke-width="0.8"/>
<text class="k" x="42.40" y="478.89" font-size="7.6" text-anchor="end" font-weight="normal" fill="#1a1a1a" letter-spacing="0.28">0.031</text>
<line x1="46.40" y1="373.00" x2="46.40" y2="484.00" stroke="#222" stroke-width="0.9"/>
<line x1="46.40" y1="484.00" x2="156.00" y2="484.00" stroke="#222" stroke-width="0.9"/>
<line x1="46.40" y1="484.00" x2="46.40" y2="486.60" stroke="#222" stroke-width="0.8"/>
<text class="k" x="46.40" y="492.70" font-size="7.6" text-anchor="middle" font-weight="normal" fill="#1a1a1a">0</text>
<line x1="60.10" y1="484.00" x2="60.10" y2="486.60" stroke="#222" stroke-width="0.8"/>
<text class="k" x="60.10" y="492.70" font-size="7.6" text-anchor="middle" font-weight="normal" fill="#1a1a1a">1</text>
<line x1="73.80" y1="484.00" x2="73.80" y2="486.60" stroke="#222" stroke-width="0.8"/>
<text class="k" x="73.80" y="492.70" font-size="7.6" text-anchor="middle" font-weight="normal" fill="#1a1a1a">2</text>
<line x1="87.50" y1="484.00" x2="87.50" y2="486.60" stroke="#222" stroke-width="0.8"/>
<text class="k" x="87.50" y="492.70" font-size="7.6" text-anchor="middle" font-weight="normal" fill="#1a1a1a">3</text>
<line x1="101.20" y1="484.00" x2="101.20" y2="486.60" stroke="#222" stroke-width="0.8"/>
<text class="k" x="101.20" y="492.70" font-size="7.6" text-anchor="middle" font-weight="normal" fill="#1a1a1a">4</text>
<line x1="114.90" y1="484.00" x2="114.90" y2="486.60" stroke="#222" stroke-width="0.8"/>
<text class="k" x="114.90" y="492.70" font-size="7.6" text-anchor="middle" font-weight="normal" fill="#1a1a1a">5</text>
<line x1="128.60" y1="484.00" x2="128.60" y2="486.60" stroke="#222" stroke-width="0.8"/>
<text class="k" x="128.60" y="492.70" font-size="7.6" text-anchor="middle" font-weight="normal" fill="#1a1a1a">6</text>
<line x1="142.30" y1="484.00" x2="142.30" y2="486.60" stroke="#222" stroke-width="0.8"/>
<text class="k" x="142.30" y="492.70" font-size="7.6" text-anchor="middle" font-weight="normal" fill="#1a1a1a">7</text>
<line x1="156.00" y1="484.00" x2="156.00" y2="486.60" stroke="#222" stroke-width="0.8"/>
<text class="k" x="156.00" y="492.70" font-size="7.6" text-anchor="middle" font-weight="normal" fill="#1a1a1a">8</text>
<text class="k" x="101.50" y="504.60" font-size="7.6" text-anchor="middle" font-weight="normal" fill="#1a1a1a" letter-spacing="0.135">Time (days) after 1 mg/kg of PSMAxCD3</text>
<text class="k" x="0.00" y="0.00" font-size="8.4" text-anchor="middle" font-weight="normal" fill="#1a1a1a" transform="translate(11.4 424) rotate(-90)">Concentration (µg/mL)</text>
<polyline points="47.5,379.4 60.2,384.0 87.3,384.6 142.5,387.5" fill="none" stroke="#3c3c3c" stroke-width="1.1"/>
<polyline points="50.2,376.5 60.2,384.0" fill="none" stroke="#3c3c3c" stroke-width="1.0"/>
<polyline points="49.2,382.3 60.2,393.0 87.3,395.9 142.5,415.2" fill="none" stroke="#e06a62" stroke-width="1.0"/>
<line x1="142.5" y1="410.4" x2="142.5" y2="421.2" stroke="#222" stroke-width="0.8"/>
<line x1="140.3" y1="410.4" x2="144.7" y2="410.4" stroke="#222" stroke-width="0.8"/>
<line x1="140.3" y1="421.2" x2="144.7" y2="421.2" stroke="#222" stroke-width="0.8"/>
<line x1="87.3" y1="392.8" x2="87.3" y2="399.0" stroke="#222" stroke-width="0.8"/>
<line x1="84.9" y1="392.8" x2="89.7" y2="392.8" stroke="#222" stroke-width="1.0"/>
<line x1="84.9" y1="399.0" x2="89.7" y2="399.0" stroke="#222" stroke-width="1.0"/>
<circle cx="50.2" cy="376.3" r="2.7" fill="#fff" stroke="#333" stroke-width="0.8"/>
<line x1="47.2" y1="376.3" x2="53.2" y2="376.3" stroke="#333" stroke-width="0.7"/>
<circle cx="47.3" cy="379.0" r="2.6" fill="#2a1a1a" stroke="#111" stroke-width="0.8"/>
<circle cx="60.2" cy="384.0" r="2.7" fill="#8e9490" stroke="#222" stroke-width="0.9"/>
<circle cx="87.3" cy="384.6" r="2.7" fill="#8e9490" stroke="#222" stroke-width="0.9"/>
<circle cx="142.5" cy="387.5" r="2.7" fill="#8e9490" stroke="#222" stroke-width="0.9"/>
<circle cx="49.2" cy="382.3" r="2.7" fill="#e0343c" stroke="#331010" stroke-width="0.9"/>
<circle cx="60.2" cy="393.0" r="2.7" fill="#e0343c" stroke="#331010" stroke-width="0.9"/>
<circle cx="87.3" cy="395.9" r="2.7" fill="#e0343c" stroke="#331010" stroke-width="0.9"/>
<circle cx="142.5" cy="415.2" r="2.7" fill="#e0343c" stroke="#331010" stroke-width="0.9"/>
<line x1="84.9" y1="392.8" x2="89.7" y2="392.8" stroke="#222" stroke-width="1.0"/>
<line x1="84.9" y1="399.0" x2="89.7" y2="399.0" stroke="#222" stroke-width="1.0"/>
<text class="k" x="53.2" y="435.9" font-size="6.9" fill="#222" text-decoration="underline">Mouse genotype</text>
<circle cx="61.9" cy="445.4" r="2.5" fill="#e0343c" stroke="#331010" stroke-width="0.9"/>
<circle cx="62.5" cy="457.6" r="2.5" fill="#8e9490" stroke="#222" stroke-width="0.9"/>
<circle cx="62.6" cy="470.3" r="2.8" fill="#fff" stroke="#222" stroke-width="0.9"/>
<line x1="58.6" y1="470.3" x2="66.6" y2="470.3" stroke="#222" stroke-width="0.8"/>
<text class="k" x="70.60" y="448.00" font-size="7.05" text-anchor="start" font-weight="normal" fill="#1a1a1a">HuT (PSMA, CD3)</text>
<text class="k" x="70.60" y="460.20" font-size="7.05" text-anchor="start" font-weight="normal" fill="#1a1a1a">HuT (CD3)</text>
<text class="k" x="72.30" y="472.90" font-size="7.05" text-anchor="start" font-weight="normal" fill="#1a1a1a">WT</text>
<text x="249.90" y="11.80" font-size="13.5" text-anchor="start" font-weight="bold" fill="#000">B</text>
<text class="k" x="275.10" y="15.80" font-size="8.3" text-anchor="start" font-weight="normal" fill="#1a1a1a">Day 0</text>
<text class="k" x="326.20" y="15.80" font-size="8.3" text-anchor="start" font-weight="normal" fill="#1a1a1a">Day 1</text>
<text class="k" x="376.20" y="15.80" font-size="8.3" text-anchor="start" font-weight="normal" fill="#1a1a1a">Day 4</text>
<text class="k" x="426.20" y="15.80" font-size="8.3" text-anchor="start" font-weight="normal" fill="#1a1a1a">Day 6</text>
<defs>
<filter id="b03" x="-20%" y="-20%" width="140%" height="140%"><feGaussianBlur stdDeviation="0.35"/></filter>
<filter id="b05" x="-50%" y="-50%" width="200%" height="200%"><feGaussianBlur stdDeviation="0.5"/></filter>
<filter id="b1" x="-50%" y="-50%" width="200%" height="200%"><feGaussianBlur stdDeviation="1.0"/></filter>
<filter id="b15" x="-50%" y="-50%" width="200%" height="200%"><feGaussianBlur stdDeviation="1.5"/></filter>
<filter id="b2" x="-50%" y="-50%" width="200%" height="200%"><feGaussianBlur stdDeviation="2.0"/></filter>
<filter id="b3" x="-50%" y="-50%" width="200%" height="200%"><feGaussianBlur stdDeviation="3.0"/></filter>
</defs>
<rect x="275.00" y="18.40" width="203.00" height="110.90" fill="rgb(20,19,42)"/>
<rect x="275.00" y="130.90" width="203.00" height="111.10" fill="rgb(20,19,42)"/>
<rect x="275.00" y="243.60" width="203.00" height="110.40" fill="rgb(20,19,42)"/>
<g transform="translate(275.00 18.40)">
<svg x="0" y="0" width="51.30" height="110.90" viewBox="0 0 51.30 110.90" overflow="hidden">
<rect x="0" y="0" width="51.30" height="110.90" fill="rgb(28,27,62)"/>
<g transform="translate(1.0 0)">
<path d="M26,22 C15,26 11,40 11,60 C11,80 12.5,96 13.5,112 L38.5,112 C39.5,96 41,80 41,60 C41,40 37,26 26,22Z" fill="rgb(50,37,130)" opacity="0.85" filter="url(#b2)"/>
<path d="M26,28 C18,32 15,44 15.5,60 C16,78 18,92 20,106 L32,106 C34,92 36,78 36.5,60 C37,44 34,32 26,28Z" fill="rgb(98,62,182)" opacity="0.42" filter="url(#b2)"/>
<path d="M26,28 L19,50 L33,50Z" fill="rgb(190,175,255)" opacity="0.38" filter="url(#b2)"/>
<ellipse cx="18.5" cy="29" rx="3.5" ry="5.5" fill="rgb(165,40,150)" opacity="0.65" filter="url(#b15)"/>
<ellipse cx="33.5" cy="29" rx="3.5" ry="5.5" fill="rgb(165,40,150)" opacity="0.65" filter="url(#b15)"/>
<ellipse cx="26" cy="98" rx="8" ry="8" fill="rgb(120,50,160)" opacity="0.50" filter="url(#b2)"/>
<path d="M27,34 C22,40 15,50 13.5,60 C13,66 17,70 22,70 L32,70 C37,70 41,66 40.5,60 C39,50 32,40 27,34Z" fill="rgb(245,110,20)" opacity="1.00" filter="url(#b15)"/>
<path d="M27,37 C23,42 18,50 17.5,58 C17.5,63 21,66 25,66 L29,66 C33,66 36.5,63 36.5,58 C36,50 31,42 27,37Z" fill="rgb(255,205,40)" opacity="1.00" filter="url(#b15)"/>
<ellipse cx="28" cy="46" rx="5" ry="10" fill="rgb(255,250,215)" opacity="0.95" filter="url(#b15)"/>
<ellipse cx="18" cy="64" rx="3.5" ry="3.5" fill="rgb(225,45,45)" opacity="0.60" filter="url(#b1)"/>
<ellipse cx="16.8" cy="22.5" rx="1.8" ry="2.2" fill="rgb(250,140,30)" opacity="0.60" filter="url(#b05)"/>
<ellipse cx="35.2" cy="22.5" rx="1.8" ry="2.2" fill="rgb(250,140,30)" opacity="0.60" filter="url(#b05)"/>
<ellipse cx="18.5" cy="27" rx="1.8" ry="2.2" fill="rgb(210,30,70)" opacity="0.48" filter="url(#b05)"/>
<ellipse cx="33.5" cy="27" rx="1.8" ry="2.2" fill="rgb(210,30,70)" opacity="0.48" filter="url(#b05)"/>
<ellipse cx="21.5" cy="92" rx="2.3" ry="2.3" fill="rgb(245,110,30)" opacity="0.50" filter="url(#b05)"/>
<ellipse cx="31" cy="92" rx="2.3" ry="2.3" fill="rgb(245,110,30)" opacity="0.40" filter="url(#b05)"/>
<ellipse cx="26.5" cy="101" rx="3" ry="3.5" fill="rgb(200,30,90)" opacity="0.40" filter="url(#b1)"/>
</g>
<path d="M9.6,3 C8.5,30 7.8,60 7.8,88 C7.8,96 10,100 16.7,101.5" fill="none" stroke="rgb(218,214,248)" stroke-width="1.5" stroke-linecap="round"/>
<g transform="translate(1.0 0)">
<g filter="url(#b03)">
<path d="M26,4.0 C24,7 21.2,10.5 20,14.5 C18.9,18 18.7,22.5 19.6,25.8 C20.5,29 22.3,31 24.3,31.5 L27.7,31.5 C29.7,31 31.5,29 32.4,25.8 C33.3,22.5 33.1,18 32,14.5 C30.8,10.5 28,7 26,4.0Z" fill="rgb(242,238,255)" stroke="rgb(248,245,255)" stroke-width="1.2"/>
<path d="M22.8,14.5 L24.8,21 M29.2,14.5 L27.2,21" stroke="rgba(170,150,220,0.7)" stroke-width="1.1" fill="none"/>
<ellipse cx="26" cy="25" rx="2.4" ry="1.8" fill="rgba(200,160,220,0.7)"/>
<path d="M12.6,24.5 L11.9,43.8 L20.3,31.5 M39.4,24.5 L40.1,43.8 L31.7,31.5" stroke="rgb(248,245,255)" stroke-width="1.9" fill="none" stroke-linecap="round" stroke-linejoin="round"/>
<circle cx="12.6" cy="24.5" r="1.7" fill="rgb(248,245,255)"/><circle cx="39.4" cy="24.5" r="1.7" fill="rgb(248,245,255)"/>
<path d="M26,30 L26.3,60 L26.8,85 L27.4,111" stroke="rgb(252,238,248)" stroke-width="2.1" fill="none" stroke-dasharray="1.3 0.3"/>
<path d="M24,71.5 L22.8,86.0 M29,71.5 L31,85.5" stroke="rgba(245,240,255,0.85)" stroke-width="1.3" fill="none"/>
<path d="M22.8,86.0 L9.5,76.0 L11.5,94.0 L17.0,102.0 M31,85.5 L44.0,74.5 L41.0,93.0 L37.5,101.0" stroke="rgb(248,245,255)" stroke-width="3.2" fill="none" stroke-linejoin="round" stroke-linecap="round"/>
<path d="M22.8,86.0 L9.5,76.0 L11.5,94.0 L17.0,102.0 M31,85.5 L44.0,74.5 L41.0,93.0 L37.5,101.0" stroke="rgb(120,100,200)" stroke-width="0.8" fill="none" stroke-linejoin="round" stroke-linecap="round" opacity="0.8"/>
</g>
</g>
</svg></g>
<g transform="translate(326.30 18.40)">
<svg x="0" y="0" width="50.20" height="110.90" viewBox="0 0 50.20 110.90" overflow="hidden">
<rect x="0" y="0" width="50.20" height="110.90" fill="rgb(28,27,62)"/>
<rect x="0" y="0" width="1.0" height="110.90" fill="rgb(18,17,36)"/>
<g transform="translate(0.1 0)">
<path d="M26,22 C15,26 11,40 11,60 C11,80 12.5,96 13.5,112 L38.5,112 C39.5,96 41,80 41,60 C41,40 37,26 26,22Z" fill="rgb(50,37,130)" opacity="0.85" filter="url(#b2)"/>
<path d="M26,28 C18,32 15,44 15.5,60 C16,78 18,92 20,106 L32,106 C34,92 36,78 36.5,60 C37,44 34,32 26,28Z" fill="rgb(98,62,182)" opacity="0.42" filter="url(#b2)"/>
<path d="M26,28 L19,50 L33,50Z" fill="rgb(190,175,255)" opacity="0.38" filter="url(#b2)"/>
<ellipse cx="18.5" cy="29" rx="3.5" ry="5.5" fill="rgb(165,40,150)" opacity="0.65" filter="url(#b15)"/>
<ellipse cx="33.5" cy="29" rx="3.5" ry="5.5" fill="rgb(165,40,150)" opacity="0.65" filter="url(#b15)"/>
<ellipse cx="26" cy="98" rx="8" ry="8" fill="rgb(120,50,160)" opacity="0.50" filter="url(#b2)"/>
<path d="M25,45 C17,45 13,52 13,60 C13,70 17,76 22,76 C24,76 25,72 25,68Z" fill="rgb(245,110,20)" opacity="1.00" filter="url(#b1)"/>
<path d="M27,45 C35,45 39,52 39,60 C39,70 35,76 30,76 C28,76 27,72 27,68Z" fill="rgb(245,110,20)" opacity="1.00" filter="url(#b1)"/>
<ellipse cx="19.5" cy="54.5" rx="5" ry="6.5" fill="rgb(255,205,40)" opacity="1.00" filter="url(#b15)"/>
<ellipse cx="32.5" cy="54.5" rx="5" ry="6.5" fill="rgb(255,205,40)" opacity="1.00" filter="url(#b15)"/>
<ellipse cx="16.8" cy="22.5" rx="1.8" ry="2.2" fill="rgb(250,140,30)" opacity="1.00" filter="url(#b05)"/>
<ellipse cx="35.2" cy="22.5" rx="1.8" ry="2.2" fill="rgb(250,140,30)" opacity="1.00" filter="url(#b05)"/>
<ellipse cx="18.5" cy="27" rx="1.8" ry="2.2" fill="rgb(210,30,70)" opacity="0.80" filter="url(#b05)"/>
<ellipse cx="33.5" cy="27" rx="1.8" ry="2.2" fill="rgb(210,30,70)" opacity="0.80" filter="url(#b05)"/>
<ellipse cx="21.5" cy="92" rx="2.3" ry="2.3" fill="rgb(245,110,30)" opacity="0.80" filter="url(#b05)"/>
<ellipse cx="31" cy="92" rx="2.3" ry="2.3" fill="rgb(245,110,30)" opacity="0.64" filter="url(#b05)"/>
<ellipse cx="26.5" cy="101" rx="3" ry="3.5" fill="rgb(200,30,90)" opacity="0.64" filter="url(#b1)"/>
</g>
<path d="M5.5,58 L5.5,111" fill="none" stroke="rgb(218,214,248)" stroke-width="1.5" stroke-linecap="round"/>
<g transform="translate(0.1 0)">
<g filter="url(#b03)">
<path d="M26,4.0 C24,7 21.2,10.5 20,14.5 C18.9,18 18.7,22.5 19.6,25.8 C20.5,29 22.3,31 24.3,31.5 L27.7,31.5 C29.7,31 31.5,29 32.4,25.8 C33.3,22.5 33.1,18 32,14.5 C30.8,10.5 28,7 26,4.0Z" fill="rgb(242,238,255)" stroke="rgb(248,245,255)" stroke-width="1.2"/>
<path d="M22.8,14.5 L24.8,21 M29.2,14.5 L27.2,21" stroke="rgba(170,150,220,0.7)" stroke-width="1.1" fill="none"/>
<ellipse cx="26" cy="25" rx="2.4" ry="1.8" fill="rgba(200,160,220,0.7)"/>
<path d="M12.6,24.5 L11.9,43.8 L20.3,31.5 M39.4,24.5 L40.1,43.8 L31.7,31.5" stroke="rgb(248,245,255)" stroke-width="1.9" fill="none" stroke-linecap="round" stroke-linejoin="round"/>
<circle cx="12.6" cy="24.5" r="1.7" fill="rgb(248,245,255)"/><circle cx="39.4" cy="24.5" r="1.7" fill="rgb(248,245,255)"/>
<path d="M26,30 L26.3,60 L26.8,85 L27.4,111" stroke="rgb(252,238,248)" stroke-width="2.1" fill="none" stroke-dasharray="1.3 0.3"/>
<path d="M24,78.5 L22.8,93.0 M29,78.5 L31,92.5" stroke="rgba(245,240,255,0.85)" stroke-width="1.3" fill="none"/>
<path d="M22.8,93.0 L9.5,83.0 L11.5,101.0 L17.0,110.0 M31,92.5 L44.0,81.5 L41.0,100.0 L37.5,109.0" stroke="rgb(248,245,255)" stroke-width="3.2" fill="none" stroke-linejoin="round" stroke-linecap="round"/>
<path d="M22.8,93.0 L9.5,83.0 L11.5,101.0 L17.0,110.0 M31,92.5 L44.0,81.5 L41.0,100.0 L37.5,109.0" stroke="rgb(120,100,200)" stroke-width="0.8" fill="none" stroke-linejoin="round" stroke-linecap="round" opacity="0.8"/>
</g>
</g>
</svg></g>
<g transform="translate(376.50 18.40)">
<svg x="0" y="0" width="50.10" height="110.90" viewBox="0 0 50.10 110.90" overflow="hidden">
<rect x="0" y="0" width="50.10" height="110.90" fill="rgb(28,27,62)"/>
<rect x="0" y="0" width="1.0" height="110.90" fill="rgb(18,17,36)"/>
<g transform="translate(1.1 0)">
<path d="M26,22 C15,26 11,40 11,60 C11,80 12.5,96 13.5,112 L38.5,112 C39.5,96 41,80 41,60 C41,40 37,26 26,22Z" fill="rgb(50,37,130)" opacity="0.77" filter="url(#b2)"/>
<path d="M26,28 C18,32 15,44 15.5,60 C16,78 18,92 20,106 L32,106 C34,92 36,78 36.5,60 C37,44 34,32 26,28Z" fill="rgb(98,62,182)" opacity="0.38" filter="url(#b2)"/>
<path d="M26,28 L19,50 L33,50Z" fill="rgb(190,175,255)" opacity="0.34" filter="url(#b2)"/>
<ellipse cx="18.5" cy="29" rx="3.5" ry="5.5" fill="rgb(165,40,150)" opacity="0.65" filter="url(#b15)"/>
<ellipse cx="33.5" cy="29" rx="3.5" ry="5.5" fill="rgb(165,40,150)" opacity="0.65" filter="url(#b15)"/>
<ellipse cx="26" cy="98" rx="8" ry="8" fill="rgb(120,50,160)" opacity="0.50" filter="url(#b2)"/>
<path d="M25,50 C18,50 14.5,56 14.5,62 C14.5,69 18,73 22,73 C24,73 25,70 25,67Z" fill="rgb(245,110,20)" opacity="1.00" filter="url(#b1)"/>
<path d="M27,50 C33,50 35,56 35,62 C35,69 32,73 29,73 C28,73 27,70 27,67Z" fill="rgb(245,110,20)" opacity="1.00" filter="url(#b1)"/>
<ellipse cx="20" cy="57" rx="4.5" ry="5" fill="rgb(255,205,40)" opacity="1.00" filter="url(#b15)"/>
<ellipse cx="31.5" cy="57" rx="4" ry="5" fill="rgb(255,205,40)" opacity="1.00" filter="url(#b15)"/>
<ellipse cx="16.8" cy="22.5" rx="1.8" ry="2.2" fill="rgb(250,140,30)" opacity="0.80" filter="url(#b05)"/>
<ellipse cx="35.2" cy="22.5" rx="1.8" ry="2.2" fill="rgb(250,140,30)" opacity="0.80" filter="url(#b05)"/>
<ellipse cx="18.5" cy="27" rx="1.8" ry="2.2" fill="rgb(210,30,70)" opacity="0.64" filter="url(#b05)"/>
<ellipse cx="33.5" cy="27" rx="1.8" ry="2.2" fill="rgb(210,30,70)" opacity="0.64" filter="url(#b05)"/>
<ellipse cx="21.5" cy="92" rx="2.3" ry="2.3" fill="rgb(245,110,30)" opacity="0.80" filter="url(#b05)"/>
<ellipse cx="31" cy="92" rx="2.3" ry="2.3" fill="rgb(245,110,30)" opacity="0.64" filter="url(#b05)"/>
<ellipse cx="26.5" cy="101" rx="3" ry="3.5" fill="rgb(200,30,90)" opacity="0.64" filter="url(#b1)"/>
</g>
<path d="M9.5,28 C5.5,45 5,62 6.1,72 C7,84 8,95 10,110" fill="none" stroke="rgb(218,214,248)" stroke-width="1.5" stroke-linecap="round"/>
<g transform="translate(1.1 0)">
<g filter="url(#b03)">
<path d="M26,4.0 C24,7 21.2,10.5 20,14.5 C18.9,18 18.7,22.5 19.6,25.8 C20.5,29 22.3,31 24.3,31.5 L27.7,31.5 C29.7,31 31.5,29 32.4,25.8 C33.3,22.5 33.1,18 32,14.5 C30.8,10.5 28,7 26,4.0Z" fill="rgb(242,238,255)" stroke="rgb(248,245,255)" stroke-width="1.2"/>
<path d="M22.8,14.5 L24.8,21 M29.2,14.5 L27.2,21" stroke="rgba(170,150,220,0.7)" stroke-width="1.1" fill="none"/>
<ellipse cx="26" cy="25" rx="2.4" ry="1.8" fill="rgba(200,160,220,0.7)"/>
<path d="M13.5,11 L11.8,28.5 L19.5,31.5 M38.5,11 L40.2,28.5 L32.5,31.5" stroke="rgb(248,245,255)" stroke-width="1.9" fill="none" stroke-linecap="round" stroke-linejoin="round"/>
<circle cx="13.5" cy="11" r="1.6" fill="rgb(248,245,255)"/><circle cx="38.5" cy="11" r="1.6" fill="rgb(248,245,255)"/>
<path d="M26,30 L26.3,60 L26.8,85 L27.4,111" stroke="rgb(252,238,248)" stroke-width="2.1" fill="none" stroke-dasharray="1.3 0.3"/>
<path d="M24,75.5 L22.8,90.0 M29,75.5 L31,89.5" stroke="rgba(245,240,255,0.85)" stroke-width="1.3" fill="none"/>
<path d="M22.8,90.0 L9.5,80.0 L11.5,98.0 L17.0,105.0 M31,89.5 L44.0,78.5 L41.0,97.0 L37.5,104.0" stroke="rgb(248,245,255)" stroke-width="3.2" fill="none" stroke-linejoin="round" stroke-linecap="round"/>
<path d="M22.8,90.0 L9.5,80.0 L11.5,98.0 L17.0,105.0 M31,89.5 L44.0,78.5 L41.0,97.0 L37.5,104.0" stroke="rgb(120,100,200)" stroke-width="0.8" fill="none" stroke-linejoin="round" stroke-linecap="round" opacity="0.8"/>
</g>
</g>
</svg></g>
<g transform="translate(426.60 18.40)">
<svg x="0" y="0" width="51.40" height="110.90" viewBox="0 0 51.40 110.90" overflow="hidden">
<rect x="0" y="0" width="51.40" height="110.90" fill="rgb(28,27,62)"/>
<rect x="0" y="0" width="1.0" height="110.90" fill="rgb(18,17,36)"/>
<rect x="50.20" y="0" width="1.2" height="110.90" fill="rgb(16,15,30)"/>
<g transform="translate(0.2 0)">
<path d="M26,22 C15,26 11,40 11,60 C11,80 12.5,96 13.5,112 L38.5,112 C39.5,96 41,80 41,60 C41,40 37,26 26,22Z" fill="rgb(50,37,130)" opacity="0.77" filter="url(#b2)"/>
<path d="M26,28 C18,32 15,44 15.5,60 C16,78 18,92 20,106 L32,106 C34,92 36,78 36.5,60 C37,44 34,32 26,28Z" fill="rgb(98,62,182)" opacity="0.38" filter="url(#b2)"/>
<path d="M26,28 L19,50 L33,50Z" fill="rgb(190,175,255)" opacity="0.34" filter="url(#b2)"/>
<ellipse cx="18.5" cy="29" rx="3.5" ry="5.5" fill="rgb(165,40,150)" opacity="0.65" filter="url(#b15)"/>
<ellipse cx="33.5" cy="29" rx="3.5" ry="5.5" fill="rgb(165,40,150)" opacity="0.65" filter="url(#b15)"/>
<ellipse cx="26" cy="98" rx="8" ry="8" fill="rgb(120,50,160)" opacity="0.50" filter="url(#b2)"/>
<path d="M25,50 C17,50 13,56 13,62 C13,69 17,72 21,72 C24,72 25,69 25,66Z" fill="rgb(245,110,20)" opacity="1.00" filter="url(#b1)"/>
<path d="M27,50 C34,50 36.5,56 36.5,62 C36.5,68 33,71 30,71 C28,71 27,68 27,66Z" fill="rgb(245,110,20)" opacity="1.00" filter="url(#b1)"/>
<ellipse cx="20" cy="56.5" rx="4.5" ry="4.5" fill="rgb(255,205,40)" opacity="1.00" filter="url(#b15)"/>
<ellipse cx="31.5" cy="56.5" rx="4" ry="4.5" fill="rgb(255,205,40)" opacity="1.00" filter="url(#b15)"/>
<ellipse cx="18" cy="68" rx="3" ry="3" fill="rgb(225,45,45)" opacity="0.80" filter="url(#b1)"/>
<ellipse cx="16.8" cy="22.5" rx="1.8" ry="2.2" fill="rgb(250,140,30)" opacity="0.80" filter="url(#b05)"/>
<ellipse cx="35.2" cy="22.5" rx="1.8" ry="2.2" fill="rgb(250,140,30)" opacity="0.80" filter="url(#b05)"/>
<ellipse cx="18.5" cy="27" rx="1.8" ry="2.2" fill="rgb(210,30,70)" opacity="0.64" filter="url(#b05)"/>
<ellipse cx="33.5" cy="27" rx="1.8" ry="2.2" fill="rgb(210,30,70)" opacity="0.64" filter="url(#b05)"/>
<ellipse cx="21.5" cy="92" rx="2.3" ry="2.3" fill="rgb(245,110,30)" opacity="0.80" filter="url(#b05)"/>
<ellipse cx="31" cy="92" rx="2.3" ry="2.3" fill="rgb(245,110,30)" opacity="0.64" filter="url(#b05)"/>
<ellipse cx="26.5" cy="101" rx="3" ry="3.5" fill="rgb(200,30,90)" opacity="0.64" filter="url(#b1)"/>
</g>
<path d="M6.4,22 L6.4,101 C6.4,107 10,110 16,110.5" fill="none" stroke="rgb(218,214,248)" stroke-width="1.5" stroke-linecap="round"/>
<g transform="translate(0.2 0)">
<g filter="url(#b03)">
<path d="M26,4.0 C24,7 21.2,10.5 20,14.5 C18.9,18 18.7,22.5 19.6,25.8 C20.5,29 22.3,31 24.3,31.5 L27.7,31.5 C29.7,31 31.5,29 32.4,25.8 C33.3,22.5 33.1,18 32,14.5 C30.8,10.5 28,7 26,4.0Z" fill="rgb(242,238,255)" stroke="rgb(248,245,255)" stroke-width="1.2"/>
<path d="M22.8,14.5 L24.8,21 M29.2,14.5 L27.2,21" stroke="rgba(170,150,220,0.7)" stroke-width="1.1" fill="none"/>
<ellipse cx="26" cy="25" rx="2.4" ry="1.8" fill="rgba(200,160,220,0.7)"/>
<path d="M12.6,24.5 L11.9,43.8 L20.3,31.5 M39.4,24.5 L40.1,43.8 L31.7,31.5" stroke="rgb(248,245,255)" stroke-width="1.9" fill="none" stroke-linecap="round" stroke-linejoin="round"/>
<circle cx="12.6" cy="24.5" r="1.7" fill="rgb(248,245,255)"/><circle cx="39.4" cy="24.5" r="1.7" fill="rgb(248,245,255)"/>
<path d="M26,30 L26.3,60 L26.8,85 L27.4,111" stroke="rgb(252,238,248)" stroke-width="2.1" fill="none" stroke-dasharray="1.3 0.3"/>
<path d="M24,73.5 L22.8,88.0 M29,73.5 L31,87.5" stroke="rgba(245,240,255,0.85)" stroke-width="1.3" fill="none"/>
<path d="M22.8,88.0 L9.5,78.0 L11.5,96.0 L17.0,110.0 M31,87.5 L44.0,76.5 L41.0,95.0 L37.5,109.0" stroke="rgb(248,245,255)" stroke-width="3.2" fill="none" stroke-linejoin="round" stroke-linecap="round"/>
<path d="M22.8,88.0 L9.5,78.0 L11.5,96.0 L17.0,110.0 M31,87.5 L44.0,76.5 L41.0,95.0 L37.5,109.0" stroke="rgb(120,100,200)" stroke-width="0.8" fill="none" stroke-linejoin="round" stroke-linecap="round" opacity="0.8"/>
</g>
</g>
</svg></g>
<g transform="translate(275.00 130.90)">
<svg x="0" y="0" width="51.30" height="111.10" viewBox="0 0 51.30 111.10" overflow="hidden">
<rect x="0" y="0" width="51.30" height="111.10" fill="rgb(28,27,62)"/>
<g transform="translate(1.3 0)">
<path d="M26,22 C15,26 11,40 11,60 C11,80 12.5,96 13.5,112 L38.5,112 C39.5,96 41,80 41,60 C41,40 37,26 26,22Z" fill="rgb(50,37,130)" opacity="0.85" filter="url(#b2)"/>
<path d="M26,28 C18,32 15,44 15.5,60 C16,78 18,92 20,106 L32,106 C34,92 36,78 36.5,60 C37,44 34,32 26,28Z" fill="rgb(98,62,182)" opacity="0.42" filter="url(#b2)"/>
<path d="M26,28 L19,50 L33,50Z" fill="rgb(190,175,255)" opacity="0.38" filter="url(#b2)"/>
<ellipse cx="18.5" cy="29" rx="3.5" ry="5.5" fill="rgb(165,40,150)" opacity="0.65" filter="url(#b15)"/>
<ellipse cx="33.5" cy="29" rx="3.5" ry="5.5" fill="rgb(165,40,150)" opacity="0.65" filter="url(#b15)"/>
<ellipse cx="26" cy="98" rx="8" ry="8" fill="rgb(120,50,160)" opacity="0.50" filter="url(#b2)"/>
<path d="M26,33 C21,40 15,49 13.5,57 C13,63 16,67 21,67 L31,67 C36,67 39.5,63 39,57 C38,49 31,40 26,33Z" fill="rgb(245,110,20)" opacity="1.00" filter="url(#b15)"/>
<path d="M26,36 C22,42 18,49 17.5,56 C17.5,61 20,64 24,64 L28,64 C32,64 35,61 34.5,56 C34,49 30,42 26,36Z" fill="rgb(255,205,40)" opacity="1.00" filter="url(#b15)"/>
<ellipse cx="26.5" cy="46" rx="4.5" ry="11" fill="rgb(255,250,215)" opacity="0.95" filter="url(#b15)"/>
<ellipse cx="18" cy="62" rx="3.5" ry="4" fill="rgb(225,45,45)" opacity="0.70" filter="url(#b1)"/>
<ellipse cx="16.8" cy="22.5" rx="1.8" ry="2.2" fill="rgb(250,140,30)" opacity="0.80" filter="url(#b05)"/>
<ellipse cx="35.2" cy="22.5" rx="1.8" ry="2.2" fill="rgb(250,140,30)" opacity="0.80" filter="url(#b05)"/>
<ellipse cx="18.5" cy="27" rx="1.8" ry="2.2" fill="rgb(210,30,70)" opacity="0.64" filter="url(#b05)"/>
<ellipse cx="33.5" cy="27" rx="1.8" ry="2.2" fill="rgb(210,30,70)" opacity="0.64" filter="url(#b05)"/>
<ellipse cx="21.5" cy="92" rx="2.3" ry="2.3" fill="rgb(245,110,30)" opacity="0.50" filter="url(#b05)"/>
<ellipse cx="31" cy="92" rx="2.3" ry="2.3" fill="rgb(245,110,30)" opacity="0.40" filter="url(#b05)"/>
<ellipse cx="26.5" cy="101" rx="3" ry="3.5" fill="rgb(200,30,90)" opacity="0.40" filter="url(#b1)"/>
</g>
<path d="M6.8,15 L6.8,95 C7.3,102 11,105 16,106" fill="none" stroke="rgb(218,214,248)" stroke-width="1.5" stroke-linecap="round"/>
<g transform="translate(1.3 0)">
<g filter="url(#b03)">
<path d="M26,4.0 C24,7 21.2,10.5 20,14.5 C18.9,18 18.7,22.5 19.6,25.8 C20.5,29 22.3,31 24.3,31.5 L27.7,31.5 C29.7,31 31.5,29 32.4,25.8 C33.3,22.5 33.1,18 32,14.5 C30.8,10.5 28,7 26,4.0Z" fill="rgb(242,238,255)" stroke="rgb(248,245,255)" stroke-width="1.2"/>
<path d="M22.8,14.5 L24.8,21 M29.2,14.5 L27.2,21" stroke="rgba(170,150,220,0.7)" stroke-width="1.1" fill="none"/>
<ellipse cx="26" cy="25" rx="2.4" ry="1.8" fill="rgba(200,160,220,0.7)"/>
<path d="M12.6,24.5 L11.9,43.8 L20.3,31.5 M39.4,24.5 L40.1,43.8 L31.7,31.5" stroke="rgb(248,245,255)" stroke-width="1.9" fill="none" stroke-linecap="round" stroke-linejoin="round"/>
<circle cx="12.6" cy="24.5" r="1.7" fill="rgb(248,245,255)"/><circle cx="39.4" cy="24.5" r="1.7" fill="rgb(248,245,255)"/>
<path d="M26,30 L26.3,60 L26.8,85 L27.4,111" stroke="rgb(252,238,248)" stroke-width="2.1" fill="none" stroke-dasharray="1.3 0.3"/>
<path d="M24,70.5 L22.8,85.0 M29,70.5 L31,84.5" stroke="rgba(245,240,255,0.85)" stroke-width="1.3" fill="none"/>
<path d="M22.8,85.0 L9.5,75.0 L11.5,93.0 L17.0,100.0 M31,84.5 L44.0,73.5 L41.0,92.0 L37.5,99.0" stroke="rgb(248,245,255)" stroke-width="3.2" fill="none" stroke-linejoin="round" stroke-linecap="round"/>
<path d="M22.8,85.0 L9.5,75.0 L11.5,93.0 L17.0,100.0 M31,84.5 L44.0,73.5 L41.0,92.0 L37.5,99.0" stroke="rgb(120,100,200)" stroke-width="0.8" fill="none" stroke-linejoin="round" stroke-linecap="round" opacity="0.8"/>
</g>
</g>
</svg></g>
<g transform="translate(326.30 130.90)">
<svg x="0" y="0" width="50.20" height="111.10" viewBox="0 0 50.20 111.10" overflow="hidden">
<rect x="0" y="0" width="50.20" height="111.10" fill="rgb(28,27,62)"/>
<rect x="0" y="0" width="1.0" height="111.10" fill="rgb(18,17,36)"/>
<g transform="translate(-0.3 0)">
<path d="M26,22 C15,26 11,40 11,60 C11,80 12.5,96 13.5,112 L38.5,112 C39.5,96 41,80 41,60 C41,40 37,26 26,22Z" fill="rgb(50,37,130)" opacity="0.85" filter="url(#b2)"/>
<path d="M26,28 C18,32 15,44 15.5,60 C16,78 18,92 20,106 L32,106 C34,92 36,78 36.5,60 C37,44 34,32 26,28Z" fill="rgb(98,62,182)" opacity="0.42" filter="url(#b2)"/>
<path d="M26,28 L19,50 L33,50Z" fill="rgb(190,175,255)" opacity="0.38" filter="url(#b2)"/>
<ellipse cx="18.5" cy="29" rx="3.5" ry="5.5" fill="rgb(165,40,150)" opacity="0.65" filter="url(#b15)"/>
<ellipse cx="33.5" cy="29" rx="3.5" ry="5.5" fill="rgb(165,40,150)" opacity="0.65" filter="url(#b15)"/>
<ellipse cx="26" cy="98" rx="8" ry="8" fill="rgb(120,50,160)" opacity="0.50" filter="url(#b2)"/>
<ellipse cx="19.5" cy="66" rx="5" ry="6.5" fill="rgb(225,45,45)" opacity="0.95" filter="url(#b1)"/>
<ellipse cx="33" cy="63" rx="4" ry="3.5" fill="rgb(225,45,45)" opacity="0.80" filter="url(#b1)"/>
<path d="M25,47 C17,47 12.5,53 12.5,61 C12.5,63 14,64 16,64 L25,64Z" fill="rgb(245,110,20)" opacity="1.00" filter="url(#b1)"/>
<path d="M27,47 C35,47 39.5,53 39.5,61 C39.5,63 38,64 36,64 L27,64Z" fill="rgb(245,110,20)" opacity="1.00" filter="url(#b1)"/>
<ellipse cx="19.5" cy="54.5" rx="5.5" ry="5.5" fill="rgb(255,205,40)" opacity="1.00" filter="url(#b1)"/>
<ellipse cx="32.5" cy="54.5" rx="5.5" ry="5.5" fill="rgb(255,205,40)" opacity="1.00" filter="url(#b1)"/>
<ellipse cx="16.8" cy="22.5" rx="1.8" ry="2.2" fill="rgb(250,140,30)" opacity="1.00" filter="url(#b05)"/>
<ellipse cx="35.2" cy="22.5" rx="1.8" ry="2.2" fill="rgb(250,140,30)" opacity="1.00" filter="url(#b05)"/>
<ellipse cx="18.5" cy="27" rx="1.8" ry="2.2" fill="rgb(210,30,70)" opacity="0.80" filter="url(#b05)"/>
<ellipse cx="33.5" cy="27" rx="1.8" ry="2.2" fill="rgb(210,30,70)" opacity="0.80" filter="url(#b05)"/>
<ellipse cx="21.5" cy="92" rx="2.3" ry="2.3" fill="rgb(245,110,30)" opacity="1.00" filter="url(#b05)"/>
<ellipse cx="31" cy="92" rx="2.3" ry="2.3" fill="rgb(245,110,30)" opacity="0.80" filter="url(#b05)"/>
<ellipse cx="26.5" cy="101" rx="3" ry="3.5" fill="rgb(200,30,90)" opacity="0.80" filter="url(#b1)"/>
</g>
<path d="M6.4,56 L6.4,111" fill="none" stroke="rgb(218,214,248)" stroke-width="1.5" stroke-linecap="round"/>
<g transform="translate(-0.3 0)">
<g filter="url(#b03)">
<path d="M26,4.0 C24,7 21.2,10.5 20,14.5 C18.9,18 18.7,22.5 19.6,25.8 C20.5,29 22.3,31 24.3,31.5 L27.7,31.5 C29.7,31 31.5,29 32.4,25.8 C33.3,22.5 33.1,18 32,14.5 C30.8,10.5 28,7 26,4.0Z" fill="rgb(242,238,255)" stroke="rgb(248,245,255)" stroke-width="1.2"/>
<path d="M22.8,14.5 L24.8,21 M29.2,14.5 L27.2,21" stroke="rgba(170,150,220,0.7)" stroke-width="1.1" fill="none"/>
<ellipse cx="26" cy="25" rx="2.4" ry="1.8" fill="rgba(200,160,220,0.7)"/>
<path d="M12.6,24.5 L11.9,43.8 L20.3,31.5 M39.4,24.5 L40.1,43.8 L31.7,31.5" stroke="rgb(248,245,255)" stroke-width="1.9" fill="none" stroke-linecap="round" stroke-linejoin="round"/>
<circle cx="12.6" cy="24.5" r="1.7" fill="rgb(248,245,255)"/><circle cx="39.4" cy="24.5" r="1.7" fill="rgb(248,245,255)"/>
<path d="M26,30 L26.3,60 L26.8,85 L27.4,111" stroke="rgb(252,238,248)" stroke-width="2.1" fill="none" stroke-dasharray="1.3 0.3"/>
<path d="M24,78.5 L22.8,93.0 M29,78.5 L31,92.5" stroke="rgba(245,240,255,0.85)" stroke-width="1.3" fill="none"/>
<path d="M22.8,93.0 L9.5,83.0 L11.5,101.0 L17.0,110.0 M31,92.5 L44.0,81.5 L41.0,100.0 L37.5,109.0" stroke="rgb(248,245,255)" stroke-width="3.2" fill="none" stroke-linejoin="round" stroke-linecap="round"/>
<path d="M22.8,93.0 L9.5,83.0 L11.5,101.0 L17.0,110.0 M31,92.5 L44.0,81.5 L41.0,100.0 L37.5,109.0" stroke="rgb(120,100,200)" stroke-width="0.8" fill="none" stroke-linejoin="round" stroke-linecap="round" opacity="0.8"/>
</g>
</g>
</svg></g>
<g transform="translate(376.50 130.90)">
<svg x="0" y="0" width="50.10" height="111.10" viewBox="0 0 50.10 111.10" overflow="hidden">
<rect x="0" y="0" width="50.10" height="111.10" fill="rgb(28,27,62)"/>
<rect x="0" y="0" width="1.0" height="111.10" fill="rgb(18,17,36)"/>
<g transform="translate(0.2 0)">
<path d="M26,22 C15,26 11,40 11,60 C11,80 12.5,96 13.5,112 L38.5,112 C39.5,96 41,80 41,60 C41,40 37,26 26,22Z" fill="rgb(50,37,130)" opacity="0.85" filter="url(#b2)"/>
<path d="M26,28 C18,32 15,44 15.5,60 C16,78 18,92 20,106 L32,106 C34,92 36,78 36.5,60 C37,44 34,32 26,28Z" fill="rgb(98,62,182)" opacity="0.42" filter="url(#b2)"/>
<path d="M26,28 L19,50 L33,50Z" fill="rgb(190,175,255)" opacity="0.38" filter="url(#b2)"/>
<ellipse cx="18.5" cy="29" rx="3.5" ry="5.5" fill="rgb(165,40,150)" opacity="0.65" filter="url(#b15)"/>
<ellipse cx="33.5" cy="29" rx="3.5" ry="5.5" fill="rgb(165,40,150)" opacity="0.65" filter="url(#b15)"/>
<ellipse cx="26" cy="98" rx="8" ry="8" fill="rgb(120,50,160)" opacity="0.50" filter="url(#b2)"/>
<ellipse cx="19.5" cy="64" rx="6.5" ry="6.5" fill="rgb(190,40,120)" opacity="0.85" filter="url(#b15)"/>
<ellipse cx="32.5" cy="64" rx="6" ry="6" fill="rgb(190,40,120)" opacity="0.80" filter="url(#b15)"/>
<path d="M25,52 C18,52 13.5,57 13.5,63 C13.5,66 15,67 17,67 L25,67Z" fill="rgb(225,45,45)" opacity="0.95" filter="url(#b1)"/>
<path d="M27,52 C34,52 38,57 38,63 C38,66 36.5,67 35,67 L27,67Z" fill="rgb(225,45,45)" opacity="0.95" filter="url(#b1)"/>
<ellipse cx="20" cy="58.5" rx="5" ry="4.5" fill="rgb(245,110,20)" opacity="1.00" filter="url(#b1)"/>
<ellipse cx="32" cy="58.5" rx="5" ry="4.5" fill="rgb(245,110,20)" opacity="0.95" filter="url(#b1)"/>
<ellipse cx="20.5" cy="57.5" rx="2.5" ry="2.5" fill="rgb(255,205,40)" opacity="0.80" filter="url(#b1)"/>
<ellipse cx="31.5" cy="57.5" rx="2.5" ry="2.5" fill="rgb(255,205,40)" opacity="0.75" filter="url(#b1)"/>
<ellipse cx="16.8" cy="22.5" rx="1.8" ry="2.2" fill="rgb(250,140,30)" opacity="0.90" filter="url(#b05)"/>
<ellipse cx="35.2" cy="22.5" rx="1.8" ry="2.2" fill="rgb(250,140,30)" opacity="0.90" filter="url(#b05)"/>
<ellipse cx="18.5" cy="27" rx="1.8" ry="2.2" fill="rgb(210,30,70)" opacity="0.72" filter="url(#b05)"/>
<ellipse cx="33.5" cy="27" rx="1.8" ry="2.2" fill="rgb(210,30,70)" opacity="0.72" filter="url(#b05)"/>
<ellipse cx="21.5" cy="92" rx="2.3" ry="2.3" fill="rgb(245,110,30)" opacity="1.00" filter="url(#b05)"/>
<ellipse cx="31" cy="92" rx="2.3" ry="2.3" fill="rgb(245,110,30)" opacity="0.80" filter="url(#b05)"/>
<ellipse cx="26.5" cy="101" rx="3" ry="3.5" fill="rgb(200,30,90)" opacity="0.80" filter="url(#b1)"/>
</g>
<path d="M5.2,36 L5.2,111" fill="none" stroke="rgb(218,214,248)" stroke-width="1.5" stroke-linecap="round"/>
<g transform="translate(0.2 0)">
<g filter="url(#b03)">
<path d="M26,4.0 C24,7 21.2,10.5 20,14.5 C18.9,18 18.7,22.5 19.6,25.8 C20.5,29 22.3,31 24.3,31.5 L27.7,31.5 C29.7,31 31.5,29 32.4,25.8 C33.3,22.5 33.1,18 32,14.5 C30.8,10.5 28,7 26,4.0Z" fill="rgb(242,238,255)" stroke="rgb(248,245,255)" stroke-width="1.2"/>
<path d="M22.8,14.5 L24.8,21 M29.2,14.5 L27.2,21" stroke="rgba(170,150,220,0.7)" stroke-width="1.1" fill="none"/>
<ellipse cx="26" cy="25" rx="2.4" ry="1.8" fill="rgba(200,160,220,0.7)"/>
<path d="M12.6,24.5 L11.9,43.8 L20.3,31.5 M39.4,24.5 L40.1,43.8 L31.7,31.5" stroke="rgb(248,245,255)" stroke-width="1.9" fill="none" stroke-linecap="round" stroke-linejoin="round"/>
<circle cx="12.6" cy="24.5" r="1.7" fill="rgb(248,245,255)"/><circle cx="39.4" cy="24.5" r="1.7" fill="rgb(248,245,255)"/>
<path d="M26,30 L26.3,60 L26.8,85 L27.4,111" stroke="rgb(252,238,248)" stroke-width="2.1" fill="none" stroke-dasharray="1.3 0.3"/>
<path d="M24,75.5 L22.8,90.0 M29,75.5 L31,89.5" stroke="rgba(245,240,255,0.85)" stroke-width="1.3" fill="none"/>
<path d="M22.8,90.0 L9.5,80.0 L11.5,98.0 L17.0,110.0 M31,89.5 L44.0,78.5 L41.0,97.0 L37.5,109.0" stroke="rgb(248,245,255)" stroke-width="3.2" fill="none" stroke-linejoin="round" stroke-linecap="round"/>
<path d="M22.8,90.0 L9.5,80.0 L11.5,98.0 L17.0,110.0 M31,89.5 L44.0,78.5 L41.0,97.0 L37.5,109.0" stroke="rgb(120,100,200)" stroke-width="0.8" fill="none" stroke-linejoin="round" stroke-linecap="round" opacity="0.8"/>
</g>
</g>
</svg></g>
<g transform="translate(426.60 130.90)">
<svg x="0" y="0" width="51.40" height="111.10" viewBox="0 0 51.40 111.10" overflow="hidden">
<rect x="0" y="0" width="51.40" height="111.10" fill="rgb(28,27,62)"/>
<rect x="0" y="0" width="1.0" height="111.10" fill="rgb(18,17,36)"/>
<rect x="50.20" y="0" width="1.2" height="111.10" fill="rgb(16,15,30)"/>
<g transform="translate(0.2 0)">
<path d="M26,22 C15,26 11,40 11,60 C11,80 12.5,96 13.5,112 L38.5,112 C39.5,96 41,80 41,60 C41,40 37,26 26,22Z" fill="rgb(50,37,130)" opacity="0.85" filter="url(#b2)"/>
<path d="M26,28 C18,32 15,44 15.5,60 C16,78 18,92 20,106 L32,106 C34,92 36,78 36.5,60 C37,44 34,32 26,28Z" fill="rgb(98,62,182)" opacity="0.42" filter="url(#b2)"/>
<path d="M26,28 L19,50 L33,50Z" fill="rgb(190,175,255)" opacity="0.38" filter="url(#b2)"/>
<ellipse cx="18.5" cy="29" rx="3.5" ry="5.5" fill="rgb(165,40,150)" opacity="0.65" filter="url(#b15)"/>
<ellipse cx="33.5" cy="29" rx="3.5" ry="5.5" fill="rgb(165,40,150)" opacity="0.65" filter="url(#b15)"/>
<ellipse cx="26" cy="98" rx="8" ry="8" fill="rgb(120,50,160)" opacity="0.50" filter="url(#b2)"/>
<ellipse cx="20" cy="60" rx="6" ry="6" fill="rgb(190,40,120)" opacity="0.70" filter="url(#b15)"/>
<path d="M25,49.5 C18,49.5 14,54 13.5,61 L25,61Z" fill="rgb(245,110,20)" opacity="1.00" filter="url(#b1)"/>
<path d="M27,49.5 C32,49.5 34,54 34.5,61 L27,61Z" fill="rgb(245,110,20)" opacity="1.00" filter="url(#b1)"/>
<ellipse cx="20" cy="54.5" rx="3.8" ry="3.2" fill="rgb(255,205,40)" opacity="1.00" filter="url(#b1)"/>
<ellipse cx="31" cy="54.5" rx="3" ry="3.2" fill="rgb(255,205,40)" opacity="0.95" filter="url(#b1)"/>
<ellipse cx="19" cy="64" rx="3" ry="3" fill="rgb(225,45,45)" opacity="0.85" filter="url(#b1)"/>
<ellipse cx="16.8" cy="22.5" rx="1.8" ry="2.2" fill="rgb(250,140,30)" opacity="1.00" filter="url(#b05)"/>
<ellipse cx="35.2" cy="22.5" rx="1.8" ry="2.2" fill="rgb(250,140,30)" opacity="1.00" filter="url(#b05)"/>
<ellipse cx="18.5" cy="27" rx="1.8" ry="2.2" fill="rgb(210,30,70)" opacity="0.80" filter="url(#b05)"/>
<ellipse cx="33.5" cy="27" rx="1.8" ry="2.2" fill="rgb(210,30,70)" opacity="0.80" filter="url(#b05)"/>
<ellipse cx="21.5" cy="92" rx="2.3" ry="2.3" fill="rgb(245,110,30)" opacity="1.00" filter="url(#b05)"/>
<ellipse cx="31" cy="92" rx="2.3" ry="2.3" fill="rgb(245,110,30)" opacity="0.80" filter="url(#b05)"/>
<ellipse cx="26.5" cy="101" rx="3" ry="3.5" fill="rgb(200,30,90)" opacity="0.80" filter="url(#b1)"/>
</g>
<path d="M6.0,28 L6.0,102 C6.0,107 9,110 13,110.5" fill="none" stroke="rgb(218,214,248)" stroke-width="1.5" stroke-linecap="round"/>
<g transform="translate(0.2 0)">
<g filter="url(#b03)">
<path d="M26,4.0 C24,7 21.2,10.5 20,14.5 C18.9,18 18.7,22.5 19.6,25.8 C20.5,29 22.3,31 24.3,31.5 L27.7,31.5 C29.7,31 31.5,29 32.4,25.8 C33.3,22.5 33.1,18 32,14.5 C30.8,10.5 28,7 26,4.0Z" fill="rgb(242,238,255)" stroke="rgb(248,245,255)" stroke-width="1.2"/>
<path d="M22.8,14.5 L24.8,21 M29.2,14.5 L27.2,21" stroke="rgba(170,150,220,0.7)" stroke-width="1.1" fill="none"/>
<ellipse cx="26" cy="25" rx="2.4" ry="1.8" fill="rgba(200,160,220,0.7)"/>
<path d="M12.6,24.5 L11.9,43.8 L20.3,31.5 M39.4,24.5 L40.1,43.8 L31.7,31.5" stroke="rgb(248,245,255)" stroke-width="1.9" fill="none" stroke-linecap="round" stroke-linejoin="round"/>
<circle cx="12.6" cy="24.5" r="1.7" fill="rgb(248,245,255)"/><circle cx="39.4" cy="24.5" r="1.7" fill="rgb(248,245,255)"/>
<path d="M26,30 L26.3,60 L26.8,85 L27.4,111" stroke="rgb(252,238,248)" stroke-width="2.1" fill="none" stroke-dasharray="1.3 0.3"/>
<path d="M24,74.5 L22.8,89.0 M29,74.5 L31,88.5" stroke="rgba(245,240,255,0.85)" stroke-width="1.3" fill="none"/>
<path d="M22.8,89.0 L9.5,79.0 L11.5,97.0 L17.0,110.0 M31,88.5 L44.0,77.5 L41.0,96.0 L37.5,109.0" stroke="rgb(248,245,255)" stroke-width="3.2" fill="none" stroke-linejoin="round" stroke-linecap="round"/>
<path d="M22.8,89.0 L9.5,79.0 L11.5,97.0 L17.0,110.0 M31,88.5 L44.0,77.5 L41.0,96.0 L37.5,109.0" stroke="rgb(120,100,200)" stroke-width="0.8" fill="none" stroke-linejoin="round" stroke-linecap="round" opacity="0.8"/>
</g>
</g>
</svg></g>
<g transform="translate(275.00 243.60)">
<svg x="0" y="0" width="51.30" height="110.40" viewBox="0 0 51.30 110.40" overflow="hidden">
<rect x="0" y="0" width="51.30" height="110.40" fill="rgb(28,27,62)"/>
<g transform="translate(1.3 0)">
<path d="M26,22 C15,26 11,40 11,60 C11,80 12.5,96 13.5,112 L38.5,112 C39.5,96 41,80 41,60 C41,40 37,26 26,22Z" fill="rgb(50,37,130)" opacity="0.89" filter="url(#b2)"/>
<path d="M26,28 C18,32 15,44 15.5,60 C16,78 18,92 20,106 L32,106 C34,92 36,78 36.5,60 C37,44 34,32 26,28Z" fill="rgb(98,62,182)" opacity="0.44" filter="url(#b2)"/>
<path d="M26,30 C12,34 7,48 7.5,64 C8,80 10,96 11,110 L41,110 C42,96 44,80 44.5,64 C45,48 40,34 26,30Z" fill="rgb(105,85,200)" opacity="0.33" filter="url(#b2)"/>
<path d="M26,34 C16,38 12,50 13,64 C14,76 18,84 26,86 C34,84 38,76 39,64 C40,50 36,38 26,34Z" fill="rgb(150,60,170)" opacity="0.30" filter="url(#b3)"/>
<path d="M26.5,36 L24.5,76 L28.5,76Z" fill="rgb(245,150,120)" opacity="0.36" filter="url(#b1)"/>
<path d="M26,28 L19,50 L33,50Z" fill="rgb(190,175,255)" opacity="0.40" filter="url(#b2)"/>
<ellipse cx="18.5" cy="29" rx="3.5" ry="5.5" fill="rgb(165,40,150)" opacity="0.65" filter="url(#b15)"/>
<ellipse cx="33.5" cy="29" rx="3.5" ry="5.5" fill="rgb(165,40,150)" opacity="0.65" filter="url(#b15)"/>
<ellipse cx="26" cy="98" rx="8" ry="8" fill="rgb(120,50,160)" opacity="0.50" filter="url(#b2)"/>
<path d="M26,40 C16,44 10.5,54 11,64 C11.5,71 17,75 26,75 C35,75 40.5,71 41,64 C41.5,54 36,44 26,40Z" fill="rgb(225,45,45)" opacity="0.95" filter="url(#b15)"/>
<ellipse cx="18.5" cy="62" rx="6.5" ry="9" fill="rgb(245,110,20)" opacity="0.95" filter="url(#b15)"/>
<ellipse cx="34.5" cy="62" rx="5" ry="8" fill="rgb(245,110,20)" opacity="0.90" filter="url(#b15)"/>
<ellipse cx="18" cy="63" rx="3.5" ry="5" fill="rgb(255,205,40)" opacity="0.70" filter="url(#b15)"/>
<path d="M26.5,30 C22,36 20.5,48 21,58 C21.5,68 23,74 26.5,75 C30,74 31.5,68 32,58 C32.5,48 31,36 26.5,30Z" fill="rgb(255,205,40)" opacity="1.00" filter="url(#b15)"/>
<ellipse cx="26.5" cy="49" rx="5.0" ry="15" fill="rgb(255,250,215)" opacity="0.95" filter="url(#b1)"/>
<ellipse cx="16.8" cy="22.5" rx="1.8" ry="2.2" fill="rgb(250,140,30)" opacity="0.60" filter="url(#b05)"/>
<ellipse cx="35.2" cy="22.5" rx="1.8" ry="2.2" fill="rgb(250,140,30)" opacity="0.60" filter="url(#b05)"/>
<ellipse cx="18.5" cy="27" rx="1.8" ry="2.2" fill="rgb(210,30,70)" opacity="0.48" filter="url(#b05)"/>
<ellipse cx="33.5" cy="27" rx="1.8" ry="2.2" fill="rgb(210,30,70)" opacity="0.48" filter="url(#b05)"/>
<ellipse cx="21.5" cy="92" rx="2.3" ry="2.3" fill="rgb(245,110,30)" opacity="0.40" filter="url(#b05)"/>
<ellipse cx="31" cy="92" rx="2.3" ry="2.3" fill="rgb(245,110,30)" opacity="0.32" filter="url(#b05)"/>
<ellipse cx="26.5" cy="101" rx="3" ry="3.5" fill="rgb(200,30,90)" opacity="0.32" filter="url(#b1)"/>
</g>
<path d="M5.8,22 L5.8,96 C6.3,104 10,108 16,109" fill="none" stroke="rgb(218,214,248)" stroke-width="1.5" stroke-linecap="round"/>
<g transform="translate(1.3 0)">
<g filter="url(#b03)">
<path d="M26,4.0 C24,7 21.2,10.5 20,14.5 C18.9,18 18.7,22.5 19.6,25.8 C20.5,29 22.3,31 24.3,31.5 L27.7,31.5 C29.7,31 31.5,29 32.4,25.8 C33.3,22.5 33.1,18 32,14.5 C30.8,10.5 28,7 26,4.0Z" fill="rgb(242,238,255)" stroke="rgb(248,245,255)" stroke-width="1.2"/>
<path d="M22.8,14.5 L24.8,21 M29.2,14.5 L27.2,21" stroke="rgba(170,150,220,0.7)" stroke-width="1.1" fill="none"/>
<ellipse cx="26" cy="25" rx="2.4" ry="1.8" fill="rgba(200,160,220,0.7)"/>
<path d="M12.6,24.5 L11.9,43.8 L20.3,31.5 M39.4,24.5 L40.1,43.8 L31.7,31.5" stroke="rgb(248,245,255)" stroke-width="1.9" fill="none" stroke-linecap="round" stroke-linejoin="round"/>
<circle cx="12.6" cy="24.5" r="1.7" fill="rgb(248,245,255)"/><circle cx="39.4" cy="24.5" r="1.7" fill="rgb(248,245,255)"/>
<path d="M26,30 L26.3,60 L26.8,85 L27.4,111" stroke="rgb(252,238,248)" stroke-width="2.1" fill="none" stroke-dasharray="1.3 0.3"/>
<path d="M24,72.5 L22.8,87.0 M29,72.5 L31,86.5" stroke="rgba(245,240,255,0.85)" stroke-width="1.3" fill="none"/>
<path d="M22.8,87.0 L8.0,77.0 L10.0,95.0 L17.0,103.0 M31,86.5 L45.5,75.5 L42.5,94.0 L37.5,102.0" stroke="rgb(248,245,255)" stroke-width="3.2" fill="none" stroke-linejoin="round" stroke-linecap="round"/>
<path d="M22.8,87.0 L8.0,77.0 L10.0,95.0 L17.0,103.0 M31,86.5 L45.5,75.5 L42.5,94.0 L37.5,102.0" stroke="rgb(120,100,200)" stroke-width="0.8" fill="none" stroke-linejoin="round" stroke-linecap="round" opacity="0.8"/>
</g>
</g>
</svg></g>
<g transform="translate(326.30 243.60)">
<svg x="0" y="0" width="50.20" height="110.40" viewBox="0 0 50.20 110.40" overflow="hidden">
<rect x="0" y="0" width="50.20" height="110.40" fill="rgb(28,27,62)"/>
<rect x="0" y="0" width="1.0" height="110.40" fill="rgb(18,17,36)"/>
<g transform="translate(-1.0 0)">
<path d="M26,22 C15,26 11,40 11,60 C11,80 12.5,96 13.5,112 L38.5,112 C39.5,96 41,80 41,60 C41,40 37,26 26,22Z" fill="rgb(50,37,130)" opacity="0.89" filter="url(#b2)"/>
<path d="M26,28 C18,32 15,44 15.5,60 C16,78 18,92 20,106 L32,106 C34,92 36,78 36.5,60 C37,44 34,32 26,28Z" fill="rgb(98,62,182)" opacity="0.44" filter="url(#b2)"/>
<path d="M26,30 C12,34 7,48 7.5,64 C8,80 10,96 11,110 L41,110 C42,96 44,80 44.5,64 C45,48 40,34 26,30Z" fill="rgb(105,85,200)" opacity="0.44" filter="url(#b2)"/>
<path d="M26,34 C16,38 12,50 13,64 C14,76 18,84 26,86 C34,84 38,76 39,64 C40,50 36,38 26,34Z" fill="rgb(150,60,170)" opacity="0.40" filter="url(#b3)"/>
<path d="M26.5,36 L24.5,76 L28.5,76Z" fill="rgb(245,150,120)" opacity="0.48" filter="url(#b1)"/>
<path d="M26,28 L19,50 L33,50Z" fill="rgb(190,175,255)" opacity="0.40" filter="url(#b2)"/>
<ellipse cx="18.5" cy="29" rx="3.5" ry="5.5" fill="rgb(165,40,150)" opacity="0.65" filter="url(#b15)"/>
<ellipse cx="33.5" cy="29" rx="3.5" ry="5.5" fill="rgb(165,40,150)" opacity="0.65" filter="url(#b15)"/>
<ellipse cx="26" cy="98" rx="8" ry="8" fill="rgb(120,50,160)" opacity="0.50" filter="url(#b2)"/>
<path d="M26,42 C17,45 12,52 12.5,62 C13,71 18,75 26,75 C34,75 39,71 39.5,62 C40,52 35,45 26,42Z" fill="rgb(190,40,120)" opacity="0.85" filter="url(#b15)"/>
<ellipse cx="19.5" cy="62" rx="5.5" ry="8" fill="rgb(225,45,45)" opacity="0.90" filter="url(#b15)"/>
<ellipse cx="33.5" cy="62" rx="4.5" ry="7" fill="rgb(225,45,45)" opacity="0.85" filter="url(#b15)"/>
<path d="M26,34 C22.5,40 21,50 21.5,60 C22,68 23.5,73 26,74 C28.5,73 30,68 30.5,60 C31,50 29.5,40 26,34Z" fill="rgb(245,110,20)" opacity="0.95" filter="url(#b15)"/>
<ellipse cx="26.5" cy="50" rx="4.5" ry="15" fill="rgb(255,205,40)" opacity="0.95" filter="url(#b15)"/>
<ellipse cx="26.5" cy="44" rx="3" ry="8" fill="rgb(255,250,215)" opacity="0.75" filter="url(#b1)"/>
<ellipse cx="16.8" cy="22.5" rx="1.8" ry="2.2" fill="rgb(250,140,30)" opacity="0.60" filter="url(#b05)"/>
<ellipse cx="35.2" cy="22.5" rx="1.8" ry="2.2" fill="rgb(250,140,30)" opacity="0.60" filter="url(#b05)"/>
<ellipse cx="18.5" cy="27" rx="1.8" ry="2.2" fill="rgb(210,30,70)" opacity="0.48" filter="url(#b05)"/>
<ellipse cx="33.5" cy="27" rx="1.8" ry="2.2" fill="rgb(210,30,70)" opacity="0.48" filter="url(#b05)"/>
<ellipse cx="21.5" cy="92" rx="2.3" ry="2.3" fill="rgb(245,110,30)" opacity="0.40" filter="url(#b05)"/>
<ellipse cx="31" cy="92" rx="2.3" ry="2.3" fill="rgb(245,110,30)" opacity="0.32" filter="url(#b05)"/>
<ellipse cx="26.5" cy="101" rx="3" ry="3.5" fill="rgb(200,30,90)" opacity="0.32" filter="url(#b1)"/>
</g>
<path d="M5.5,20 L5.5,111" fill="none" stroke="rgb(218,214,248)" stroke-width="1.5" stroke-linecap="round"/>
<g transform="translate(-1.0 0)">
<g filter="url(#b03)">
<path d="M26,4.0 C24,7 21.2,10.5 20,14.5 C18.9,18 18.7,22.5 19.6,25.8 C20.5,29 22.3,31 24.3,31.5 L27.7,31.5 C29.7,31 31.5,29 32.4,25.8 C33.3,22.5 33.1,18 32,14.5 C30.8,10.5 28,7 26,4.0Z" fill="rgb(242,238,255)" stroke="rgb(248,245,255)" stroke-width="1.2"/>
<path d="M22.8,14.5 L24.8,21 M29.2,14.5 L27.2,21" stroke="rgba(170,150,220,0.7)" stroke-width="1.1" fill="none"/>
<ellipse cx="26" cy="25" rx="2.4" ry="1.8" fill="rgba(200,160,220,0.7)"/>
<path d="M12.6,24.5 L11.9,43.8 L20.3,31.5 M39.4,24.5 L40.1,43.8 L31.7,31.5" stroke="rgb(248,245,255)" stroke-width="1.9" fill="none" stroke-linecap="round" stroke-linejoin="round"/>
<circle cx="12.6" cy="24.5" r="1.7" fill="rgb(248,245,255)"/><circle cx="39.4" cy="24.5" r="1.7" fill="rgb(248,245,255)"/>
<path d="M26,30 L26.3,60 L26.8,85 L27.4,111" stroke="rgb(252,238,248)" stroke-width="2.1" fill="none" stroke-dasharray="1.3 0.3"/>
<path d="M24,75.5 L22.8,90.0 M29,75.5 L31,89.5" stroke="rgba(245,240,255,0.85)" stroke-width="1.3" fill="none"/>
<path d="M22.8,90.0 L8.0,80.0 L10.0,98.0 L17.0,110.0 M31,89.5 L45.5,78.5 L42.5,97.0 L37.5,109.0" stroke="rgb(248,245,255)" stroke-width="3.2" fill="none" stroke-linejoin="round" stroke-linecap="round"/>
<path d="M22.8,90.0 L8.0,80.0 L10.0,98.0 L17.0,110.0 M31,89.5 L45.5,78.5 L42.5,97.0 L37.5,109.0" stroke="rgb(120,100,200)" stroke-width="0.8" fill="none" stroke-linejoin="round" stroke-linecap="round" opacity="0.8"/>
</g>
</g>
</svg></g>
<g transform="translate(376.50 243.60)">
<svg x="0" y="0" width="50.10" height="110.40" viewBox="0 0 50.10 110.40" overflow="hidden">
<rect x="0" y="0" width="50.10" height="110.40" fill="rgb(28,27,62)"/>
<rect x="0" y="0" width="1.0" height="110.40" fill="rgb(18,17,36)"/>
<g transform="translate(0.0 0)">
<path d="M26,22 C15,26 11,40 11,60 C11,80 12.5,96 13.5,112 L38.5,112 C39.5,96 41,80 41,60 C41,40 37,26 26,22Z" fill="rgb(50,37,130)" opacity="0.98" filter="url(#b2)"/>
<path d="M26,28 C18,32 15,44 15.5,60 C16,78 18,92 20,106 L32,106 C34,92 36,78 36.5,60 C37,44 34,32 26,28Z" fill="rgb(98,62,182)" opacity="0.48" filter="url(#b2)"/>
<path d="M26,30 C12,34 7,48 7.5,64 C8,80 10,96 11,110 L41,110 C42,96 44,80 44.5,64 C45,48 40,34 26,30Z" fill="rgb(105,85,200)" opacity="0.55" filter="url(#b2)"/>
<path d="M26,34 C16,38 12,50 13,64 C14,76 18,84 26,86 C34,84 38,76 39,64 C40,50 36,38 26,34Z" fill="rgb(150,60,170)" opacity="0.50" filter="url(#b3)"/>
<path d="M26.5,36 L24.5,76 L28.5,76Z" fill="rgb(245,150,120)" opacity="0.60" filter="url(#b1)"/>
<path d="M26,28 L19,50 L33,50Z" fill="rgb(190,175,255)" opacity="0.44" filter="url(#b2)"/>
<ellipse cx="18.5" cy="29" rx="3.5" ry="5.5" fill="rgb(165,40,150)" opacity="0.65" filter="url(#b15)"/>
<ellipse cx="33.5" cy="29" rx="3.5" ry="5.5" fill="rgb(165,40,150)" opacity="0.65" filter="url(#b15)"/>
<ellipse cx="26" cy="98" rx="8" ry="8" fill="rgb(120,50,160)" opacity="0.50" filter="url(#b2)"/>
<path d="M26,40 C16,44 11,52 12,62 C13,71 18,75 26,75 C34,75 39,71 40,62 C41,52 36,44 26,40Z" fill="rgb(190,40,120)" opacity="0.70" filter="url(#b2)"/>
<ellipse cx="19" cy="65" rx="5.5" ry="5" fill="rgb(225,45,45)" opacity="0.85" filter="url(#b15)"/>
<ellipse cx="25" cy="48" rx="4.5" ry="7" fill="rgb(225,45,45)" opacity="0.75" filter="url(#b15)"/>
<ellipse cx="33" cy="62" rx="3.5" ry="4" fill="rgb(210,40,90)" opacity="0.70" filter="url(#b15)"/>
<ellipse cx="16.8" cy="22.5" rx="1.8" ry="2.2" fill="rgb(250,140,30)" opacity="0.50" filter="url(#b05)"/>
<ellipse cx="35.2" cy="22.5" rx="1.8" ry="2.2" fill="rgb(250,140,30)" opacity="0.50" filter="url(#b05)"/>
<ellipse cx="18.5" cy="27" rx="1.8" ry="2.2" fill="rgb(210,30,70)" opacity="0.40" filter="url(#b05)"/>
<ellipse cx="33.5" cy="27" rx="1.8" ry="2.2" fill="rgb(210,30,70)" opacity="0.40" filter="url(#b05)"/>
<ellipse cx="21.5" cy="92" rx="2.3" ry="2.3" fill="rgb(245,110,30)" opacity="0.40" filter="url(#b05)"/>
<ellipse cx="31" cy="92" rx="2.3" ry="2.3" fill="rgb(245,110,30)" opacity="0.32" filter="url(#b05)"/>
<ellipse cx="26.5" cy="101" rx="3" ry="3.5" fill="rgb(200,30,90)" opacity="0.32" filter="url(#b1)"/>
</g>
<path d="M5.5,20 L5.5,100 C6,107 10,110 17,110" fill="none" stroke="rgb(218,214,248)" stroke-width="1.5" stroke-linecap="round"/>
<g transform="translate(0.0 0)">
<g filter="url(#b03)">
<path d="M26,4.0 C24,7 21.2,10.5 20,14.5 C18.9,18 18.7,22.5 19.6,25.8 C20.5,29 22.3,31 24.3,31.5 L27.7,31.5 C29.7,31 31.5,29 32.4,25.8 C33.3,22.5 33.1,18 32,14.5 C30.8,10.5 28,7 26,4.0Z" fill="rgb(242,238,255)" stroke="rgb(248,245,255)" stroke-width="1.2"/>
<path d="M22.8,14.5 L24.8,21 M29.2,14.5 L27.2,21" stroke="rgba(170,150,220,0.7)" stroke-width="1.1" fill="none"/>
<ellipse cx="26" cy="25" rx="2.4" ry="1.8" fill="rgba(200,160,220,0.7)"/>
<path d="M12.6,24.5 L11.9,43.8 L20.3,31.5 M39.4,24.5 L40.1,43.8 L31.7,31.5" stroke="rgb(248,245,255)" stroke-width="1.9" fill="none" stroke-linecap="round" stroke-linejoin="round"/>
<circle cx="12.6" cy="24.5" r="1.7" fill="rgb(248,245,255)"/><circle cx="39.4" cy="24.5" r="1.7" fill="rgb(248,245,255)"/>
<path d="M26,30 L26.3,60 L26.8,85 L27.4,111" stroke="rgb(252,238,248)" stroke-width="2.1" fill="none" stroke-dasharray="1.3 0.3"/>
<path d="M24,75.5 L22.8,90.0 M29,75.5 L31,89.5" stroke="rgba(245,240,255,0.85)" stroke-width="1.3" fill="none"/>
<path d="M22.8,90.0 L8.0,80.0 L10.0,98.0 L17.0,110.0 M31,89.5 L45.5,78.5 L42.5,97.0 L37.5,109.0" stroke="rgb(248,245,255)" stroke-width="3.2" fill="none" stroke-linejoin="round" stroke-linecap="round"/>
<path d="M22.8,90.0 L8.0,80.0 L10.0,98.0 L17.0,110.0 M31,89.5 L45.5,78.5 L42.5,97.0 L37.5,109.0" stroke="rgb(120,100,200)" stroke-width="0.8" fill="none" stroke-linejoin="round" stroke-linecap="round" opacity="0.8"/>
</g>
</g>
</svg></g>
<g transform="translate(426.60 243.60)">
<svg x="0" y="0" width="51.40" height="110.40" viewBox="0 0 51.40 110.40" overflow="hidden">
<rect x="0" y="0" width="51.40" height="110.40" fill="rgb(28,27,62)"/>
<rect x="0" y="0" width="1.0" height="110.40" fill="rgb(18,17,36)"/>
<rect x="50.20" y="0" width="1.2" height="110.40" fill="rgb(16,15,30)"/>
<g transform="translate(-0.4 0)">
<path d="M26,22 C15,26 11,40 11,60 C11,80 12.5,96 13.5,112 L38.5,112 C39.5,96 41,80 41,60 C41,40 37,26 26,22Z" fill="rgb(50,37,130)" opacity="0.98" filter="url(#b2)"/>
<path d="M26,28 C18,32 15,44 15.5,60 C16,78 18,92 20,106 L32,106 C34,92 36,78 36.5,60 C37,44 34,32 26,28Z" fill="rgb(98,62,182)" opacity="0.48" filter="url(#b2)"/>
<path d="M26,30 C12,34 7,48 7.5,64 C8,80 10,96 11,110 L41,110 C42,96 44,80 44.5,64 C45,48 40,34 26,30Z" fill="rgb(105,85,200)" opacity="0.55" filter="url(#b2)"/>
<path d="M26,34 C16,38 12,50 13,64 C14,76 18,84 26,86 C34,84 38,76 39,64 C40,50 36,38 26,34Z" fill="rgb(150,60,170)" opacity="0.50" filter="url(#b3)"/>
<path d="M26.5,36 L24.5,76 L28.5,76Z" fill="rgb(245,150,120)" opacity="0.60" filter="url(#b1)"/>
<path d="M26,28 L19,50 L33,50Z" fill="rgb(190,175,255)" opacity="0.44" filter="url(#b2)"/>
<ellipse cx="18.5" cy="29" rx="3.5" ry="5.5" fill="rgb(165,40,150)" opacity="0.65" filter="url(#b15)"/>
<ellipse cx="33.5" cy="29" rx="3.5" ry="5.5" fill="rgb(165,40,150)" opacity="0.65" filter="url(#b15)"/>
<ellipse cx="26" cy="98" rx="8" ry="8" fill="rgb(120,50,160)" opacity="0.50" filter="url(#b2)"/>
<path d="M26,40 C16,44 11,52 12,62 C13,71 18,75 26,75 C34,75 39,71 40,62 C41,52 36,44 26,40Z" fill="rgb(190,40,120)" opacity="0.65" filter="url(#b2)"/>
<ellipse cx="18.5" cy="63" rx="5" ry="5" fill="rgb(225,45,45)" opacity="0.80" filter="url(#b15)"/>
<ellipse cx="25" cy="49" rx="4" ry="6.5" fill="rgb(225,45,45)" opacity="0.65" filter="url(#b15)"/>
<ellipse cx="33" cy="62" rx="3.5" ry="4" fill="rgb(210,40,90)" opacity="0.60" filter="url(#b15)"/>
<ellipse cx="16.8" cy="22.5" rx="1.8" ry="2.2" fill="rgb(250,140,30)" opacity="0.50" filter="url(#b05)"/>
<ellipse cx="35.2" cy="22.5" rx="1.8" ry="2.2" fill="rgb(250,140,30)" opacity="0.50" filter="url(#b05)"/>
<ellipse cx="18.5" cy="27" rx="1.8" ry="2.2" fill="rgb(210,30,70)" opacity="0.40" filter="url(#b05)"/>
<ellipse cx="33.5" cy="27" rx="1.8" ry="2.2" fill="rgb(210,30,70)" opacity="0.40" filter="url(#b05)"/>
<ellipse cx="21.5" cy="92" rx="2.3" ry="2.3" fill="rgb(245,110,30)" opacity="0.40" filter="url(#b05)"/>
<ellipse cx="31" cy="92" rx="2.3" ry="2.3" fill="rgb(245,110,30)" opacity="0.32" filter="url(#b05)"/>
<ellipse cx="26.5" cy="101" rx="3" ry="3.5" fill="rgb(200,30,90)" opacity="0.32" filter="url(#b1)"/>
</g>
<path d="M6.2,40 L6.2,111" fill="none" stroke="rgb(218,214,248)" stroke-width="1.5" stroke-linecap="round"/>
<g transform="translate(-0.4 0)">
<g filter="url(#b03)">
<path d="M26,4.0 C24,7 21.2,10.5 20,14.5 C18.9,18 18.7,22.5 19.6,25.8 C20.5,29 22.3,31 24.3,31.5 L27.7,31.5 C29.7,31 31.5,29 32.4,25.8 C33.3,22.5 33.1,18 32,14.5 C30.8,10.5 28,7 26,4.0Z" fill="rgb(242,238,255)" stroke="rgb(248,245,255)" stroke-width="1.2"/>
<path d="M22.8,14.5 L24.8,21 M29.2,14.5 L27.2,21" stroke="rgba(170,150,220,0.7)" stroke-width="1.1" fill="none"/>
<ellipse cx="26" cy="25" rx="2.4" ry="1.8" fill="rgba(200,160,220,0.7)"/>
<path d="M12.6,24.5 L11.9,43.8 L20.3,31.5 M39.4,24.5 L40.1,43.8 L31.7,31.5" stroke="rgb(248,245,255)" stroke-width="1.9" fill="none" stroke-linecap="round" stroke-linejoin="round"/>
<circle cx="12.6" cy="24.5" r="1.7" fill="rgb(248,245,255)"/><circle cx="39.4" cy="24.5" r="1.7" fill="rgb(248,245,255)"/>
<path d="M26,30 L26.3,60 L26.8,85 L27.4,111" stroke="rgb(252,238,248)" stroke-width="2.1" fill="none" stroke-dasharray="1.3 0.3"/>
<path d="M24,75.5 L22.8,90.0 M29,75.5 L31,89.5" stroke="rgba(245,240,255,0.85)" stroke-width="1.3" fill="none"/>
<path d="M22.8,90.0 L8.0,80.0 L10.0,98.0 L17.0,110.0 M31,89.5 L45.5,78.5 L42.5,97.0 L37.5,109.0" stroke="rgb(248,245,255)" stroke-width="3.2" fill="none" stroke-linejoin="round" stroke-linecap="round"/>
<path d="M22.8,90.0 L8.0,80.0 L10.0,98.0 L17.0,110.0 M31,89.5 L45.5,78.5 L42.5,97.0 L37.5,109.0" stroke="rgb(120,100,200)" stroke-width="0.8" fill="none" stroke-linejoin="round" stroke-linecap="round" opacity="0.8"/>
</g>
</g>
</svg></g>
<text x="430.90" y="29.20" font-size="6.6" fill="#ffffff" font-weight="bold">LG</text>
<text x="463.70" y="31.60" font-size="6.6" fill="#ffffff" font-weight="bold">SG</text>
<text x="466.80" y="78.60" font-size="6.6" fill="#ffffff" font-weight="bold">Lv</text>
<text x="435.20" y="91.40" font-size="6.6" fill="#ffffff" font-weight="bold">Kd</text>
<text x="442.40" y="115.60" font-size="6.6" fill="#ffffff" font-weight="bold">Ep</text>
<path d="M467.40,34.90 L463.60,41.90" stroke="#fff" stroke-width="0.9"/>
<text x="428.50" y="39.70" font-size="9" fill="#ffffff" font-weight="bold">LG</text>
<text x="428.00" y="144.70" font-size="6.6" fill="#ffffff" font-weight="bold">LG</text>
<text x="464.30" y="145.20" font-size="6.6" fill="#ffffff" font-weight="bold">SG</text>
<text x="468.30" y="196.90" font-size="6.6" fill="#ffffff" font-weight="bold">Lv</text>
<text x="436.80" y="208.50" font-size="6.6" fill="#ffffff" font-weight="bold">Kd</text>
<text x="442.50" y="232.70" font-size="6.6" fill="#ffffff" font-weight="bold">Ep</text>
<path d="M467.10,146.90 L463.60,151.90" stroke="#fff" stroke-width="0.8"/>
<path d="M436.10,147.40 L440.60,150.90" stroke="#fff" stroke-width="1.4"/>
<text x="0" y="0" font-size="7.5" text-anchor="middle" fill="#b8404a" stroke="#b8404a" stroke-width="0.18" transform="translate(270.9 69.8) rotate(-90)"><tspan font-size="4.6" dy="-2.8">89</tspan><tspan dy="2.8">Zr-anti-PSMA</tspan></text>
<text x="0" y="0" font-size="7.8" text-anchor="middle" fill="#d03232" stroke="#d03232" stroke-width="0.18" transform="translate(271.0 173.8) rotate(-90)"><tspan font-size="4.6" dy="-2.8">89</tspan><tspan dy="2.8">Zr-PSMAxCD3</tspan></text>
<text x="0" y="0" font-size="7.8" text-anchor="middle" fill="#1a1a1a" stroke="#1a1a1a" stroke-width="0.16" transform="translate(271.0 291) rotate(-90)"><tspan font-size="4.6" dy="-2.8">89</tspan><tspan dy="2.8">Zr-CD3-binding control</tspan></text>
<defs><linearGradient id="cb" x1="0" y1="1" x2="0" y2="0"><stop offset="0" stop-color="#000000"/><stop offset="0.09" stop-color="#0a0420"/><stop offset="0.17" stop-color="#201060"/><stop offset="0.27" stop-color="#5a1890"/><stop offset="0.36" stop-color="#a01890"/><stop offset="0.47" stop-color="#e82030"/><stop offset="0.62" stop-color="#f87010"/><stop offset="0.8" stop-color="#f8e818"/><stop offset="0.95" stop-color="#fffff0"/><stop offset="1" stop-color="#ffffff"/></linearGradient></defs>
<rect x="496.8" y="36.8" width="8.2" height="63.4" fill="url(#cb)" stroke="#111" stroke-width="0.9"/>
<text class="k" x="500.50" y="25.30" font-size="6.9" text-anchor="middle" font-weight="normal" fill="#1a1a1a">High uptake</text>
<text class="k" x="500.50" y="33.50" font-size="6.9" text-anchor="middle" font-weight="normal" fill="#1a1a1a">15%ID/g</text>
<text class="k" x="501.50" y="109.30" font-size="6.9" text-anchor="middle" font-weight="normal" fill="#1a1a1a">Low uptake</text>
<text class="k" x="501.50" y="116.80" font-size="6.9" text-anchor="middle" font-weight="normal" fill="#1a1a1a">0%ID/g</text>
</svg>
</body></html>
